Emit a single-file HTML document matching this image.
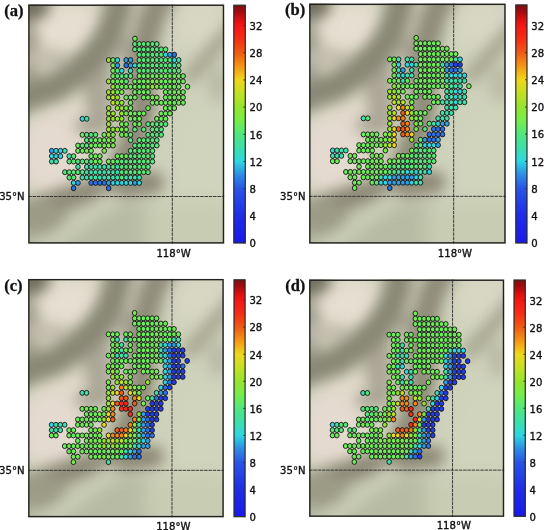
<!DOCTYPE html>
<html><head><meta charset="utf-8"><style>
html,body{margin:0;padding:0;background:#fff;}
body{width:544px;height:530px;overflow:hidden;}
svg{display:block;}
.gl{stroke:#333;stroke-width:0.95;stroke-dasharray:3.5 0.8;fill:none;}
.fr{fill:none;stroke:#222;stroke-width:1.4;}
.cb{stroke:#2b2b2b;stroke-width:1.2;}
.tk{stroke:#333;stroke-width:0.9;}
.tl,.al{font-family:"DejaVu Sans","Liberation Sans",sans-serif;font-size:10.1px;fill:#111;stroke:#111;stroke-width:0.35px;}
.pl{font-family:"Liberation Serif","DejaVu Serif",serif;font-weight:bold;font-size:16.5px;fill:#111;stroke:#111;stroke-width:0.3px;}
.d{stroke:#141414;stroke-width:0.9;}
</style></head><body>
<svg width="544" height="530" viewBox="0 0 544 530">
<defs>
<linearGradient id="jet" x1="0" y1="1" x2="0" y2="0"><stop offset="0.0000" stop-color="#1919eb"/><stop offset="0.1143" stop-color="#1e2de8"/><stop offset="0.2286" stop-color="#2855e6"/><stop offset="0.2857" stop-color="#2d8ce6"/><stop offset="0.3429" stop-color="#2dd7e1"/><stop offset="0.4000" stop-color="#3ce0aa"/><stop offset="0.4571" stop-color="#52e67d"/><stop offset="0.4857" stop-color="#62eb64"/><stop offset="0.5143" stop-color="#76ed4b"/><stop offset="0.5714" stop-color="#96e42d"/><stop offset="0.6286" stop-color="#c3e123"/><stop offset="0.6857" stop-color="#f0d719"/><stop offset="0.7429" stop-color="#f59614"/><stop offset="0.8000" stop-color="#f05a14"/><stop offset="0.8571" stop-color="#f52d14"/><stop offset="0.9143" stop-color="#f51614"/><stop offset="0.9429" stop-color="#d70f0f"/><stop offset="0.9714" stop-color="#a50a0f"/><stop offset="1.0000" stop-color="#7d0f0f"/></linearGradient>
<filter id="bl" x="-50%" y="-50%" width="200%" height="200%"><feGaussianBlur stdDeviation="9"/></filter>
<filter id="bl3" x="-50%" y="-50%" width="200%" height="200%"><feGaussianBlur stdDeviation="7"/></filter>
<filter id="bl2" x="-50%" y="-50%" width="200%" height="200%"><feGaussianBlur stdDeviation="5"/></filter>
<g id="terrain"><rect x="-20" y="-20" width="240" height="280" fill="#cfd2bb"/>
<g filter="url(#bl)">
<ellipse cx="40" cy="24" rx="40" ry="26" fill="#e6ded1"/>
<ellipse cx="99" cy="10" rx="9" ry="22" fill="#e2dacc"/>
<ellipse cx="24" cy="150" rx="33" ry="44" fill="#e5dad0"/>
<ellipse cx="42" cy="110" rx="32" ry="14" fill="#e2d9cc"/>
<ellipse cx="180" cy="170" rx="35" ry="60" fill="#d0d4bc"/>
<ellipse cx="175" cy="20" rx="30" ry="25" fill="#d8d7c5"/>
<rect x="-20" y="196" width="140" height="60" fill="#b8bba3"/>
<ellipse cx="170" cy="225" rx="55" ry="32" fill="#c8ccb2"/>
</g>
<g filter="url(#bl3)" fill="none" stroke-linecap="round" stroke-linejoin="round">
<ellipse cx="0" cy="0" rx="22" ry="17" fill="#736f5e" stroke="none"/>
<ellipse cx="0" cy="50" rx="11" ry="34" fill="#a19c8b" stroke="none"/>
<path d="M70 40 L82 40 L84 125 L62 125 L55 80 Z" fill="#aca797" stroke="none"/>
<ellipse cx="63" cy="121" rx="17" ry="8" fill="#a7a393" stroke="none"/>
<ellipse cx="98" cy="46" rx="12" ry="13" fill="#b0ac9c" stroke="none"/>
<path d="M92 -8 L88 12 L80 32 L66 52 L48 68 L28 82 L0 92 L-10 97" stroke="#898876" stroke-width="28"/>
<ellipse cx="18" cy="54" rx="24" ry="9" fill="#c3beae" stroke="none"/>
<path d="M134 -8 L124 12 L116 40 L112 70 L115 100 L110 125 L95 158" stroke="#8f8c79" stroke-width="26"/>
<path d="M125 178 L95 182 L60 187 L30 196 L-8 210" stroke="#8c8876" stroke-width="22"/>
<path d="M206 22 L162 72" stroke="#a9a893" stroke-width="16"/>
<ellipse cx="190" cy="80" rx="10" ry="18" fill="#b9b9a4" stroke="none"/>
<ellipse cx="8" cy="212" rx="30" ry="18" fill="#9c9c86" stroke="none"/>
<path d="M14 246 L82 194" stroke="#cacdb5" stroke-width="16"/>
</g>
</g>
</defs>
<g transform="translate(28.20 4.50) scale(1.0000 1.0000)">
<svg x="0" y="0" width="196.0" height="239.1" viewBox="0 0 196.0 239.1" overflow="hidden"><use href="#terrain"/></svg>
<line x1="144.1" y1="0" x2="144.1" y2="239.1" class="gl"/>
<line x1="0" y1="192.0" x2="196.0" y2="192.0" class="gl"/>
<ellipse class="d" cx="106.72" cy="34.20" rx="2.3" ry="2.5" fill="#6cec58"/>
<ellipse class="d" cx="106.72" cy="39.54" rx="2.3" ry="2.5" fill="#55e778"/>
<ellipse class="d" cx="111.10" cy="39.54" rx="2.3" ry="2.5" fill="#55e778"/>
<ellipse class="d" cx="115.48" cy="39.54" rx="2.3" ry="2.5" fill="#55e778"/>
<ellipse class="d" cx="119.86" cy="39.54" rx="2.3" ry="2.5" fill="#55e778"/>
<ellipse class="d" cx="124.24" cy="39.54" rx="2.3" ry="2.5" fill="#55e778"/>
<ellipse class="d" cx="128.62" cy="39.54" rx="2.3" ry="2.5" fill="#55e778"/>
<ellipse class="d" cx="106.72" cy="44.88" rx="2.3" ry="2.5" fill="#55e778"/>
<ellipse class="d" cx="111.10" cy="44.88" rx="2.3" ry="2.5" fill="#55e778"/>
<ellipse class="d" cx="115.48" cy="44.88" rx="2.3" ry="2.5" fill="#55e778"/>
<ellipse class="d" cx="119.86" cy="44.88" rx="2.3" ry="2.5" fill="#55e778"/>
<ellipse class="d" cx="124.24" cy="44.88" rx="2.3" ry="2.5" fill="#55e778"/>
<ellipse class="d" cx="128.62" cy="44.88" rx="2.3" ry="2.5" fill="#55e778"/>
<ellipse class="d" cx="133.00" cy="44.88" rx="2.3" ry="2.5" fill="#55e778"/>
<ellipse class="d" cx="137.38" cy="44.88" rx="2.3" ry="2.5" fill="#55e778"/>
<ellipse class="d" cx="111.10" cy="50.22" rx="2.3" ry="2.5" fill="#55e778"/>
<ellipse class="d" cx="115.48" cy="50.22" rx="2.3" ry="2.5" fill="#55e778"/>
<ellipse class="d" cx="119.86" cy="50.22" rx="2.3" ry="2.5" fill="#55e778"/>
<ellipse class="d" cx="124.24" cy="50.22" rx="2.3" ry="2.5" fill="#55e778"/>
<ellipse class="d" cx="128.62" cy="50.22" rx="2.3" ry="2.5" fill="#55e778"/>
<ellipse class="d" cx="133.00" cy="50.22" rx="2.3" ry="2.5" fill="#55e778"/>
<ellipse class="d" cx="137.38" cy="50.22" rx="2.3" ry="2.5" fill="#2dd7e1"/>
<ellipse class="d" cx="141.76" cy="50.22" rx="2.3" ry="2.5" fill="#2d9fe5"/>
<ellipse class="d" cx="146.14" cy="50.22" rx="2.3" ry="2.5" fill="#2a70e6"/>
<ellipse class="d" cx="80.44" cy="55.56" rx="2.3" ry="2.5" fill="#96e42d"/>
<ellipse class="d" cx="84.82" cy="55.56" rx="2.3" ry="2.5" fill="#6cec58"/>
<ellipse class="d" cx="89.20" cy="55.56" rx="2.3" ry="2.5" fill="#2dd7e1"/>
<ellipse class="d" cx="97.96" cy="55.56" rx="2.3" ry="2.5" fill="#2d9fe5"/>
<ellipse class="d" cx="102.34" cy="55.56" rx="2.3" ry="2.5" fill="#2d9fe5"/>
<ellipse class="d" cx="111.10" cy="55.56" rx="2.3" ry="2.5" fill="#55e778"/>
<ellipse class="d" cx="115.48" cy="55.56" rx="2.3" ry="2.5" fill="#55e778"/>
<ellipse class="d" cx="119.86" cy="55.56" rx="2.3" ry="2.5" fill="#55e778"/>
<ellipse class="d" cx="124.24" cy="55.56" rx="2.3" ry="2.5" fill="#55e778"/>
<ellipse class="d" cx="128.62" cy="55.56" rx="2.3" ry="2.5" fill="#55e778"/>
<ellipse class="d" cx="133.00" cy="55.56" rx="2.3" ry="2.5" fill="#55e778"/>
<ellipse class="d" cx="137.38" cy="55.56" rx="2.3" ry="2.5" fill="#55e778"/>
<ellipse class="d" cx="141.76" cy="55.56" rx="2.3" ry="2.5" fill="#55e778"/>
<ellipse class="d" cx="146.14" cy="55.56" rx="2.3" ry="2.5" fill="#2dd7e1"/>
<ellipse class="d" cx="150.52" cy="55.56" rx="2.3" ry="2.5" fill="#3ce0aa"/>
<ellipse class="d" cx="84.82" cy="60.90" rx="2.3" ry="2.5" fill="#6cec58"/>
<ellipse class="d" cx="89.20" cy="60.90" rx="2.3" ry="2.5" fill="#2d9fe5"/>
<ellipse class="d" cx="97.96" cy="60.90" rx="2.3" ry="2.5" fill="#2a70e6"/>
<ellipse class="d" cx="102.34" cy="60.90" rx="2.3" ry="2.5" fill="#2d9fe5"/>
<ellipse class="d" cx="106.72" cy="60.90" rx="2.3" ry="2.5" fill="#2dd7e1"/>
<ellipse class="d" cx="111.10" cy="60.90" rx="2.3" ry="2.5" fill="#55e778"/>
<ellipse class="d" cx="115.48" cy="60.90" rx="2.3" ry="2.5" fill="#55e778"/>
<ellipse class="d" cx="119.86" cy="60.90" rx="2.3" ry="2.5" fill="#55e778"/>
<ellipse class="d" cx="124.24" cy="60.90" rx="2.3" ry="2.5" fill="#55e778"/>
<ellipse class="d" cx="128.62" cy="60.90" rx="2.3" ry="2.5" fill="#55e778"/>
<ellipse class="d" cx="133.00" cy="60.90" rx="2.3" ry="2.5" fill="#55e778"/>
<ellipse class="d" cx="137.38" cy="60.90" rx="2.3" ry="2.5" fill="#55e778"/>
<ellipse class="d" cx="141.76" cy="60.90" rx="2.3" ry="2.5" fill="#55e778"/>
<ellipse class="d" cx="146.14" cy="60.90" rx="2.3" ry="2.5" fill="#3ce0aa"/>
<ellipse class="d" cx="150.52" cy="60.90" rx="2.3" ry="2.5" fill="#55e778"/>
<ellipse class="d" cx="84.82" cy="66.24" rx="2.3" ry="2.5" fill="#6cec58"/>
<ellipse class="d" cx="89.20" cy="66.24" rx="2.3" ry="2.5" fill="#55e778"/>
<ellipse class="d" cx="93.58" cy="66.24" rx="2.3" ry="2.5" fill="#2dd7e1"/>
<ellipse class="d" cx="102.34" cy="66.24" rx="2.3" ry="2.5" fill="#3ce0aa"/>
<ellipse class="d" cx="111.10" cy="66.24" rx="2.3" ry="2.5" fill="#55e778"/>
<ellipse class="d" cx="115.48" cy="66.24" rx="2.3" ry="2.5" fill="#55e778"/>
<ellipse class="d" cx="119.86" cy="66.24" rx="2.3" ry="2.5" fill="#55e778"/>
<ellipse class="d" cx="124.24" cy="66.24" rx="2.3" ry="2.5" fill="#55e778"/>
<ellipse class="d" cx="128.62" cy="66.24" rx="2.3" ry="2.5" fill="#55e778"/>
<ellipse class="d" cx="133.00" cy="66.24" rx="2.3" ry="2.5" fill="#55e778"/>
<ellipse class="d" cx="137.38" cy="66.24" rx="2.3" ry="2.5" fill="#55e778"/>
<ellipse class="d" cx="141.76" cy="66.24" rx="2.3" ry="2.5" fill="#55e778"/>
<ellipse class="d" cx="146.14" cy="66.24" rx="2.3" ry="2.5" fill="#55e778"/>
<ellipse class="d" cx="150.52" cy="66.24" rx="2.3" ry="2.5" fill="#55e778"/>
<ellipse class="d" cx="84.82" cy="71.58" rx="2.3" ry="2.5" fill="#6cec58"/>
<ellipse class="d" cx="89.20" cy="71.58" rx="2.3" ry="2.5" fill="#55e778"/>
<ellipse class="d" cx="93.58" cy="71.58" rx="2.3" ry="2.5" fill="#55e778"/>
<ellipse class="d" cx="97.96" cy="71.58" rx="2.3" ry="2.5" fill="#55e778"/>
<ellipse class="d" cx="102.34" cy="71.58" rx="2.3" ry="2.5" fill="#55e778"/>
<ellipse class="d" cx="111.10" cy="71.58" rx="2.3" ry="2.5" fill="#6cec58"/>
<ellipse class="d" cx="115.48" cy="71.58" rx="2.3" ry="2.5" fill="#6cec58"/>
<ellipse class="d" cx="119.86" cy="71.58" rx="2.3" ry="2.5" fill="#6cec58"/>
<ellipse class="d" cx="124.24" cy="71.58" rx="2.3" ry="2.5" fill="#6cec58"/>
<ellipse class="d" cx="128.62" cy="71.58" rx="2.3" ry="2.5" fill="#6cec58"/>
<ellipse class="d" cx="133.00" cy="71.58" rx="2.3" ry="2.5" fill="#6cec58"/>
<ellipse class="d" cx="137.38" cy="71.58" rx="2.3" ry="2.5" fill="#6cec58"/>
<ellipse class="d" cx="141.76" cy="71.58" rx="2.3" ry="2.5" fill="#6cec58"/>
<ellipse class="d" cx="146.14" cy="71.58" rx="2.3" ry="2.5" fill="#6cec58"/>
<ellipse class="d" cx="150.52" cy="71.58" rx="2.3" ry="2.5" fill="#6cec58"/>
<ellipse class="d" cx="154.90" cy="71.58" rx="2.3" ry="2.5" fill="#6cec58"/>
<ellipse class="d" cx="80.44" cy="76.92" rx="2.3" ry="2.5" fill="#96e42d"/>
<ellipse class="d" cx="84.82" cy="76.92" rx="2.3" ry="2.5" fill="#6cec58"/>
<ellipse class="d" cx="89.20" cy="76.92" rx="2.3" ry="2.5" fill="#6cec58"/>
<ellipse class="d" cx="93.58" cy="76.92" rx="2.3" ry="2.5" fill="#6cec58"/>
<ellipse class="d" cx="97.96" cy="76.92" rx="2.3" ry="2.5" fill="#55e778"/>
<ellipse class="d" cx="106.72" cy="76.92" rx="2.3" ry="2.5" fill="#6cec58"/>
<ellipse class="d" cx="111.10" cy="76.92" rx="2.3" ry="2.5" fill="#6cec58"/>
<ellipse class="d" cx="115.48" cy="76.92" rx="2.3" ry="2.5" fill="#6cec58"/>
<ellipse class="d" cx="119.86" cy="76.92" rx="2.3" ry="2.5" fill="#76ed4b"/>
<ellipse class="d" cx="124.24" cy="76.92" rx="2.3" ry="2.5" fill="#76ed4b"/>
<ellipse class="d" cx="128.62" cy="76.92" rx="2.3" ry="2.5" fill="#76ed4b"/>
<ellipse class="d" cx="133.00" cy="76.92" rx="2.3" ry="2.5" fill="#6cec58"/>
<ellipse class="d" cx="137.38" cy="76.92" rx="2.3" ry="2.5" fill="#6cec58"/>
<ellipse class="d" cx="141.76" cy="76.92" rx="2.3" ry="2.5" fill="#6cec58"/>
<ellipse class="d" cx="146.14" cy="76.92" rx="2.3" ry="2.5" fill="#6cec58"/>
<ellipse class="d" cx="150.52" cy="76.92" rx="2.3" ry="2.5" fill="#6cec58"/>
<ellipse class="d" cx="154.90" cy="76.92" rx="2.3" ry="2.5" fill="#6cec58"/>
<ellipse class="d" cx="84.82" cy="82.26" rx="2.3" ry="2.5" fill="#96e42d"/>
<ellipse class="d" cx="89.20" cy="82.26" rx="2.3" ry="2.5" fill="#6cec58"/>
<ellipse class="d" cx="93.58" cy="82.26" rx="2.3" ry="2.5" fill="#6cec58"/>
<ellipse class="d" cx="97.96" cy="82.26" rx="2.3" ry="2.5" fill="#6cec58"/>
<ellipse class="d" cx="102.34" cy="82.26" rx="2.3" ry="2.5" fill="#6cec58"/>
<ellipse class="d" cx="106.72" cy="82.26" rx="2.3" ry="2.5" fill="#6cec58"/>
<ellipse class="d" cx="111.10" cy="82.26" rx="2.3" ry="2.5" fill="#6cec58"/>
<ellipse class="d" cx="115.48" cy="82.26" rx="2.3" ry="2.5" fill="#6cec58"/>
<ellipse class="d" cx="119.86" cy="82.26" rx="2.3" ry="2.5" fill="#76ed4b"/>
<ellipse class="d" cx="124.24" cy="82.26" rx="2.3" ry="2.5" fill="#96e42d"/>
<ellipse class="d" cx="128.62" cy="82.26" rx="2.3" ry="2.5" fill="#76ed4b"/>
<ellipse class="d" cx="133.00" cy="82.26" rx="2.3" ry="2.5" fill="#6cec58"/>
<ellipse class="d" cx="137.38" cy="82.26" rx="2.3" ry="2.5" fill="#6cec58"/>
<ellipse class="d" cx="141.76" cy="82.26" rx="2.3" ry="2.5" fill="#6cec58"/>
<ellipse class="d" cx="146.14" cy="82.26" rx="2.3" ry="2.5" fill="#6cec58"/>
<ellipse class="d" cx="150.52" cy="82.26" rx="2.3" ry="2.5" fill="#6cec58"/>
<ellipse class="d" cx="159.28" cy="82.26" rx="2.3" ry="2.5" fill="#6cec58"/>
<ellipse class="d" cx="80.44" cy="87.60" rx="2.3" ry="2.5" fill="#96e42d"/>
<ellipse class="d" cx="84.82" cy="87.60" rx="2.3" ry="2.5" fill="#96e42d"/>
<ellipse class="d" cx="89.20" cy="87.60" rx="2.3" ry="2.5" fill="#76ed4b"/>
<ellipse class="d" cx="93.58" cy="87.60" rx="2.3" ry="2.5" fill="#76ed4b"/>
<ellipse class="d" cx="106.72" cy="87.60" rx="2.3" ry="2.5" fill="#6cec58"/>
<ellipse class="d" cx="111.10" cy="87.60" rx="2.3" ry="2.5" fill="#6cec58"/>
<ellipse class="d" cx="115.48" cy="87.60" rx="2.3" ry="2.5" fill="#6cec58"/>
<ellipse class="d" cx="119.86" cy="87.60" rx="2.3" ry="2.5" fill="#6cec58"/>
<ellipse class="d" cx="137.38" cy="87.60" rx="2.3" ry="2.5" fill="#6cec58"/>
<ellipse class="d" cx="141.76" cy="87.60" rx="2.3" ry="2.5" fill="#6cec58"/>
<ellipse class="d" cx="146.14" cy="87.60" rx="2.3" ry="2.5" fill="#6cec58"/>
<ellipse class="d" cx="150.52" cy="87.60" rx="2.3" ry="2.5" fill="#6cec58"/>
<ellipse class="d" cx="154.90" cy="87.60" rx="2.3" ry="2.5" fill="#6cec58"/>
<ellipse class="d" cx="80.44" cy="92.94" rx="2.3" ry="2.5" fill="#96e42d"/>
<ellipse class="d" cx="84.82" cy="92.94" rx="2.3" ry="2.5" fill="#c3e123"/>
<ellipse class="d" cx="89.20" cy="92.94" rx="2.3" ry="2.5" fill="#96e42d"/>
<ellipse class="d" cx="97.96" cy="92.94" rx="2.3" ry="2.5" fill="#6cec58"/>
<ellipse class="d" cx="102.34" cy="92.94" rx="2.3" ry="2.5" fill="#6cec58"/>
<ellipse class="d" cx="106.72" cy="92.94" rx="2.3" ry="2.5" fill="#6cec58"/>
<ellipse class="d" cx="115.48" cy="92.94" rx="2.3" ry="2.5" fill="#6cec58"/>
<ellipse class="d" cx="119.86" cy="92.94" rx="2.3" ry="2.5" fill="#76ed4b"/>
<ellipse class="d" cx="124.24" cy="92.94" rx="2.3" ry="2.5" fill="#76ed4b"/>
<ellipse class="d" cx="128.62" cy="92.94" rx="2.3" ry="2.5" fill="#76ed4b"/>
<ellipse class="d" cx="137.38" cy="92.94" rx="2.3" ry="2.5" fill="#6cec58"/>
<ellipse class="d" cx="141.76" cy="92.94" rx="2.3" ry="2.5" fill="#6cec58"/>
<ellipse class="d" cx="146.14" cy="92.94" rx="2.3" ry="2.5" fill="#6cec58"/>
<ellipse class="d" cx="150.52" cy="92.94" rx="2.3" ry="2.5" fill="#6cec58"/>
<ellipse class="d" cx="154.90" cy="92.94" rx="2.3" ry="2.5" fill="#6cec58"/>
<ellipse class="d" cx="84.82" cy="98.28" rx="2.3" ry="2.5" fill="#c3e123"/>
<ellipse class="d" cx="89.20" cy="98.28" rx="2.3" ry="2.5" fill="#96e42d"/>
<ellipse class="d" cx="93.58" cy="98.28" rx="2.3" ry="2.5" fill="#96e42d"/>
<ellipse class="d" cx="102.34" cy="98.28" rx="2.3" ry="2.5" fill="#6cec58"/>
<ellipse class="d" cx="124.24" cy="98.28" rx="2.3" ry="2.5" fill="#6cec58"/>
<ellipse class="d" cx="128.62" cy="98.28" rx="2.3" ry="2.5" fill="#6cec58"/>
<ellipse class="d" cx="133.00" cy="98.28" rx="2.3" ry="2.5" fill="#6cec58"/>
<ellipse class="d" cx="137.38" cy="98.28" rx="2.3" ry="2.5" fill="#6cec58"/>
<ellipse class="d" cx="141.76" cy="98.28" rx="2.3" ry="2.5" fill="#6cec58"/>
<ellipse class="d" cx="146.14" cy="98.28" rx="2.3" ry="2.5" fill="#6cec58"/>
<ellipse class="d" cx="150.52" cy="98.28" rx="2.3" ry="2.5" fill="#6cec58"/>
<ellipse class="d" cx="154.90" cy="98.28" rx="2.3" ry="2.5" fill="#6cec58"/>
<ellipse class="d" cx="80.44" cy="103.62" rx="2.3" ry="2.5" fill="#96e42d"/>
<ellipse class="d" cx="89.20" cy="103.62" rx="2.3" ry="2.5" fill="#96e42d"/>
<ellipse class="d" cx="93.58" cy="103.62" rx="2.3" ry="2.5" fill="#96e42d"/>
<ellipse class="d" cx="97.96" cy="103.62" rx="2.3" ry="2.5" fill="#76ed4b"/>
<ellipse class="d" cx="102.34" cy="103.62" rx="2.3" ry="2.5" fill="#6cec58"/>
<ellipse class="d" cx="119.86" cy="103.62" rx="2.3" ry="2.5" fill="#6cec58"/>
<ellipse class="d" cx="137.38" cy="103.62" rx="2.3" ry="2.5" fill="#6cec58"/>
<ellipse class="d" cx="141.76" cy="103.62" rx="2.3" ry="2.5" fill="#6cec58"/>
<ellipse class="d" cx="146.14" cy="103.62" rx="2.3" ry="2.5" fill="#6cec58"/>
<ellipse class="d" cx="80.44" cy="108.96" rx="2.3" ry="2.5" fill="#96e42d"/>
<ellipse class="d" cx="84.82" cy="108.96" rx="2.3" ry="2.5" fill="#96e42d"/>
<ellipse class="d" cx="93.58" cy="108.96" rx="2.3" ry="2.5" fill="#96e42d"/>
<ellipse class="d" cx="97.96" cy="108.96" rx="2.3" ry="2.5" fill="#76ed4b"/>
<ellipse class="d" cx="102.34" cy="108.96" rx="2.3" ry="2.5" fill="#6cec58"/>
<ellipse class="d" cx="106.72" cy="108.96" rx="2.3" ry="2.5" fill="#6cec58"/>
<ellipse class="d" cx="111.10" cy="108.96" rx="2.3" ry="2.5" fill="#6cec58"/>
<ellipse class="d" cx="115.48" cy="108.96" rx="2.3" ry="2.5" fill="#6cec58"/>
<ellipse class="d" cx="133.00" cy="108.96" rx="2.3" ry="2.5" fill="#6cec58"/>
<ellipse class="d" cx="137.38" cy="108.96" rx="2.3" ry="2.5" fill="#6cec58"/>
<ellipse class="d" cx="141.76" cy="108.96" rx="2.3" ry="2.5" fill="#6cec58"/>
<ellipse class="d" cx="54.16" cy="114.30" rx="2.3" ry="2.5" fill="#2dd7e1"/>
<ellipse class="d" cx="58.54" cy="114.30" rx="2.3" ry="2.5" fill="#3ce0aa"/>
<ellipse class="d" cx="80.44" cy="114.30" rx="2.3" ry="2.5" fill="#96e42d"/>
<ellipse class="d" cx="84.82" cy="114.30" rx="2.3" ry="2.5" fill="#96e42d"/>
<ellipse class="d" cx="89.20" cy="114.30" rx="2.3" ry="2.5" fill="#96e42d"/>
<ellipse class="d" cx="93.58" cy="114.30" rx="2.3" ry="2.5" fill="#96e42d"/>
<ellipse class="d" cx="102.34" cy="114.30" rx="2.3" ry="2.5" fill="#6cec58"/>
<ellipse class="d" cx="106.72" cy="114.30" rx="2.3" ry="2.5" fill="#6cec58"/>
<ellipse class="d" cx="111.10" cy="114.30" rx="2.3" ry="2.5" fill="#6cec58"/>
<ellipse class="d" cx="128.62" cy="114.30" rx="2.3" ry="2.5" fill="#6cec58"/>
<ellipse class="d" cx="133.00" cy="114.30" rx="2.3" ry="2.5" fill="#6cec58"/>
<ellipse class="d" cx="137.38" cy="114.30" rx="2.3" ry="2.5" fill="#6cec58"/>
<ellipse class="d" cx="80.44" cy="119.64" rx="2.3" ry="2.5" fill="#96e42d"/>
<ellipse class="d" cx="93.58" cy="119.64" rx="2.3" ry="2.5" fill="#76ed4b"/>
<ellipse class="d" cx="97.96" cy="119.64" rx="2.3" ry="2.5" fill="#6cec58"/>
<ellipse class="d" cx="106.72" cy="119.64" rx="2.3" ry="2.5" fill="#6cec58"/>
<ellipse class="d" cx="111.10" cy="119.64" rx="2.3" ry="2.5" fill="#6cec58"/>
<ellipse class="d" cx="119.86" cy="119.64" rx="2.3" ry="2.5" fill="#55e778"/>
<ellipse class="d" cx="124.24" cy="119.64" rx="2.3" ry="2.5" fill="#55e778"/>
<ellipse class="d" cx="128.62" cy="119.64" rx="2.3" ry="2.5" fill="#55e778"/>
<ellipse class="d" cx="133.00" cy="119.64" rx="2.3" ry="2.5" fill="#55e778"/>
<ellipse class="d" cx="137.38" cy="119.64" rx="2.3" ry="2.5" fill="#55e778"/>
<ellipse class="d" cx="80.44" cy="124.98" rx="2.3" ry="2.5" fill="#96e42d"/>
<ellipse class="d" cx="84.82" cy="124.98" rx="2.3" ry="2.5" fill="#96e42d"/>
<ellipse class="d" cx="89.20" cy="124.98" rx="2.3" ry="2.5" fill="#96e42d"/>
<ellipse class="d" cx="93.58" cy="124.98" rx="2.3" ry="2.5" fill="#76ed4b"/>
<ellipse class="d" cx="97.96" cy="124.98" rx="2.3" ry="2.5" fill="#6cec58"/>
<ellipse class="d" cx="106.72" cy="124.98" rx="2.3" ry="2.5" fill="#55e778"/>
<ellipse class="d" cx="115.48" cy="124.98" rx="2.3" ry="2.5" fill="#55e778"/>
<ellipse class="d" cx="124.24" cy="124.98" rx="2.3" ry="2.5" fill="#55e778"/>
<ellipse class="d" cx="128.62" cy="124.98" rx="2.3" ry="2.5" fill="#55e778"/>
<ellipse class="d" cx="133.00" cy="124.98" rx="2.3" ry="2.5" fill="#55e778"/>
<ellipse class="d" cx="54.16" cy="130.32" rx="2.3" ry="2.5" fill="#6cec58"/>
<ellipse class="d" cx="58.54" cy="130.32" rx="2.3" ry="2.5" fill="#55e778"/>
<ellipse class="d" cx="62.92" cy="130.32" rx="2.3" ry="2.5" fill="#55e778"/>
<ellipse class="d" cx="67.30" cy="130.32" rx="2.3" ry="2.5" fill="#55e778"/>
<ellipse class="d" cx="76.06" cy="130.32" rx="2.3" ry="2.5" fill="#6cec58"/>
<ellipse class="d" cx="80.44" cy="130.32" rx="2.3" ry="2.5" fill="#96e42d"/>
<ellipse class="d" cx="84.82" cy="130.32" rx="2.3" ry="2.5" fill="#76ed4b"/>
<ellipse class="d" cx="93.58" cy="130.32" rx="2.3" ry="2.5" fill="#76ed4b"/>
<ellipse class="d" cx="97.96" cy="130.32" rx="2.3" ry="2.5" fill="#6cec58"/>
<ellipse class="d" cx="102.34" cy="130.32" rx="2.3" ry="2.5" fill="#55e778"/>
<ellipse class="d" cx="119.86" cy="130.32" rx="2.3" ry="2.5" fill="#55e778"/>
<ellipse class="d" cx="124.24" cy="130.32" rx="2.3" ry="2.5" fill="#55e778"/>
<ellipse class="d" cx="128.62" cy="130.32" rx="2.3" ry="2.5" fill="#55e778"/>
<ellipse class="d" cx="133.00" cy="130.32" rx="2.3" ry="2.5" fill="#55e778"/>
<ellipse class="d" cx="58.54" cy="135.66" rx="2.3" ry="2.5" fill="#55e778"/>
<ellipse class="d" cx="62.92" cy="135.66" rx="2.3" ry="2.5" fill="#55e778"/>
<ellipse class="d" cx="67.30" cy="135.66" rx="2.3" ry="2.5" fill="#6cec58"/>
<ellipse class="d" cx="71.68" cy="135.66" rx="2.3" ry="2.5" fill="#6cec58"/>
<ellipse class="d" cx="76.06" cy="135.66" rx="2.3" ry="2.5" fill="#6cec58"/>
<ellipse class="d" cx="80.44" cy="135.66" rx="2.3" ry="2.5" fill="#76ed4b"/>
<ellipse class="d" cx="84.82" cy="135.66" rx="2.3" ry="2.5" fill="#76ed4b"/>
<ellipse class="d" cx="102.34" cy="135.66" rx="2.3" ry="2.5" fill="#55e778"/>
<ellipse class="d" cx="111.10" cy="135.66" rx="2.3" ry="2.5" fill="#55e778"/>
<ellipse class="d" cx="115.48" cy="135.66" rx="2.3" ry="2.5" fill="#55e778"/>
<ellipse class="d" cx="119.86" cy="135.66" rx="2.3" ry="2.5" fill="#55e778"/>
<ellipse class="d" cx="124.24" cy="135.66" rx="2.3" ry="2.5" fill="#55e778"/>
<ellipse class="d" cx="128.62" cy="135.66" rx="2.3" ry="2.5" fill="#55e778"/>
<ellipse class="d" cx="49.78" cy="141.00" rx="2.3" ry="2.5" fill="#6cec58"/>
<ellipse class="d" cx="54.16" cy="141.00" rx="2.3" ry="2.5" fill="#55e778"/>
<ellipse class="d" cx="58.54" cy="141.00" rx="2.3" ry="2.5" fill="#55e778"/>
<ellipse class="d" cx="62.92" cy="141.00" rx="2.3" ry="2.5" fill="#6cec58"/>
<ellipse class="d" cx="67.30" cy="141.00" rx="2.3" ry="2.5" fill="#6cec58"/>
<ellipse class="d" cx="71.68" cy="141.00" rx="2.3" ry="2.5" fill="#6cec58"/>
<ellipse class="d" cx="76.06" cy="141.00" rx="2.3" ry="2.5" fill="#6cec58"/>
<ellipse class="d" cx="80.44" cy="141.00" rx="2.3" ry="2.5" fill="#76ed4b"/>
<ellipse class="d" cx="84.82" cy="141.00" rx="2.3" ry="2.5" fill="#76ed4b"/>
<ellipse class="d" cx="106.72" cy="141.00" rx="2.3" ry="2.5" fill="#55e778"/>
<ellipse class="d" cx="111.10" cy="141.00" rx="2.3" ry="2.5" fill="#55e778"/>
<ellipse class="d" cx="115.48" cy="141.00" rx="2.3" ry="2.5" fill="#55e778"/>
<ellipse class="d" cx="119.86" cy="141.00" rx="2.3" ry="2.5" fill="#55e778"/>
<ellipse class="d" cx="124.24" cy="141.00" rx="2.3" ry="2.5" fill="#55e778"/>
<ellipse class="d" cx="128.62" cy="141.00" rx="2.3" ry="2.5" fill="#55e778"/>
<ellipse class="d" cx="23.50" cy="146.34" rx="2.3" ry="2.5" fill="#2d9fe5"/>
<ellipse class="d" cx="27.88" cy="146.34" rx="2.3" ry="2.5" fill="#2dd7e1"/>
<ellipse class="d" cx="32.26" cy="146.34" rx="2.3" ry="2.5" fill="#2dd7e1"/>
<ellipse class="d" cx="36.64" cy="146.34" rx="2.3" ry="2.5" fill="#3ce0aa"/>
<ellipse class="d" cx="49.78" cy="146.34" rx="2.3" ry="2.5" fill="#6cec58"/>
<ellipse class="d" cx="54.16" cy="146.34" rx="2.3" ry="2.5" fill="#6cec58"/>
<ellipse class="d" cx="58.54" cy="146.34" rx="2.3" ry="2.5" fill="#6cec58"/>
<ellipse class="d" cx="62.92" cy="146.34" rx="2.3" ry="2.5" fill="#6cec58"/>
<ellipse class="d" cx="76.06" cy="146.34" rx="2.3" ry="2.5" fill="#76ed4b"/>
<ellipse class="d" cx="102.34" cy="146.34" rx="2.3" ry="2.5" fill="#55e778"/>
<ellipse class="d" cx="106.72" cy="146.34" rx="2.3" ry="2.5" fill="#55e778"/>
<ellipse class="d" cx="111.10" cy="146.34" rx="2.3" ry="2.5" fill="#55e778"/>
<ellipse class="d" cx="115.48" cy="146.34" rx="2.3" ry="2.5" fill="#55e778"/>
<ellipse class="d" cx="119.86" cy="146.34" rx="2.3" ry="2.5" fill="#55e778"/>
<ellipse class="d" cx="124.24" cy="146.34" rx="2.3" ry="2.5" fill="#55e778"/>
<ellipse class="d" cx="23.50" cy="151.68" rx="2.3" ry="2.5" fill="#2dd7e1"/>
<ellipse class="d" cx="27.88" cy="151.68" rx="2.3" ry="2.5" fill="#2dd7e1"/>
<ellipse class="d" cx="32.26" cy="151.68" rx="2.3" ry="2.5" fill="#2dd7e1"/>
<ellipse class="d" cx="41.02" cy="151.68" rx="2.3" ry="2.5" fill="#3ce0aa"/>
<ellipse class="d" cx="45.40" cy="151.68" rx="2.3" ry="2.5" fill="#55e778"/>
<ellipse class="d" cx="62.92" cy="151.68" rx="2.3" ry="2.5" fill="#6cec58"/>
<ellipse class="d" cx="67.30" cy="151.68" rx="2.3" ry="2.5" fill="#6cec58"/>
<ellipse class="d" cx="71.68" cy="151.68" rx="2.3" ry="2.5" fill="#6cec58"/>
<ellipse class="d" cx="89.20" cy="151.68" rx="2.3" ry="2.5" fill="#6cec58"/>
<ellipse class="d" cx="93.58" cy="151.68" rx="2.3" ry="2.5" fill="#6cec58"/>
<ellipse class="d" cx="97.96" cy="151.68" rx="2.3" ry="2.5" fill="#6cec58"/>
<ellipse class="d" cx="102.34" cy="151.68" rx="2.3" ry="2.5" fill="#55e778"/>
<ellipse class="d" cx="106.72" cy="151.68" rx="2.3" ry="2.5" fill="#55e778"/>
<ellipse class="d" cx="111.10" cy="151.68" rx="2.3" ry="2.5" fill="#55e778"/>
<ellipse class="d" cx="115.48" cy="151.68" rx="2.3" ry="2.5" fill="#55e778"/>
<ellipse class="d" cx="119.86" cy="151.68" rx="2.3" ry="2.5" fill="#55e778"/>
<ellipse class="d" cx="124.24" cy="151.68" rx="2.3" ry="2.5" fill="#55e778"/>
<ellipse class="d" cx="23.50" cy="157.02" rx="2.3" ry="2.5" fill="#3ce0aa"/>
<ellipse class="d" cx="27.88" cy="157.02" rx="2.3" ry="2.5" fill="#3ce0aa"/>
<ellipse class="d" cx="41.02" cy="157.02" rx="2.3" ry="2.5" fill="#55e778"/>
<ellipse class="d" cx="45.40" cy="157.02" rx="2.3" ry="2.5" fill="#55e778"/>
<ellipse class="d" cx="49.78" cy="157.02" rx="2.3" ry="2.5" fill="#55e778"/>
<ellipse class="d" cx="54.16" cy="157.02" rx="2.3" ry="2.5" fill="#55e778"/>
<ellipse class="d" cx="58.54" cy="157.02" rx="2.3" ry="2.5" fill="#55e778"/>
<ellipse class="d" cx="62.92" cy="157.02" rx="2.3" ry="2.5" fill="#55e778"/>
<ellipse class="d" cx="67.30" cy="157.02" rx="2.3" ry="2.5" fill="#6cec58"/>
<ellipse class="d" cx="71.68" cy="157.02" rx="2.3" ry="2.5" fill="#6cec58"/>
<ellipse class="d" cx="80.44" cy="157.02" rx="2.3" ry="2.5" fill="#6cec58"/>
<ellipse class="d" cx="84.82" cy="157.02" rx="2.3" ry="2.5" fill="#6cec58"/>
<ellipse class="d" cx="89.20" cy="157.02" rx="2.3" ry="2.5" fill="#55e778"/>
<ellipse class="d" cx="93.58" cy="157.02" rx="2.3" ry="2.5" fill="#55e778"/>
<ellipse class="d" cx="97.96" cy="157.02" rx="2.3" ry="2.5" fill="#55e778"/>
<ellipse class="d" cx="102.34" cy="157.02" rx="2.3" ry="2.5" fill="#55e778"/>
<ellipse class="d" cx="106.72" cy="157.02" rx="2.3" ry="2.5" fill="#55e778"/>
<ellipse class="d" cx="111.10" cy="157.02" rx="2.3" ry="2.5" fill="#55e778"/>
<ellipse class="d" cx="115.48" cy="157.02" rx="2.3" ry="2.5" fill="#55e778"/>
<ellipse class="d" cx="119.86" cy="157.02" rx="2.3" ry="2.5" fill="#55e778"/>
<ellipse class="d" cx="124.24" cy="157.02" rx="2.3" ry="2.5" fill="#55e778"/>
<ellipse class="d" cx="49.78" cy="162.36" rx="2.3" ry="2.5" fill="#3ce0aa"/>
<ellipse class="d" cx="58.54" cy="162.36" rx="2.3" ry="2.5" fill="#3ce0aa"/>
<ellipse class="d" cx="62.92" cy="162.36" rx="2.3" ry="2.5" fill="#3ce0aa"/>
<ellipse class="d" cx="67.30" cy="162.36" rx="2.3" ry="2.5" fill="#3ce0aa"/>
<ellipse class="d" cx="71.68" cy="162.36" rx="2.3" ry="2.5" fill="#3ce0aa"/>
<ellipse class="d" cx="76.06" cy="162.36" rx="2.3" ry="2.5" fill="#3ce0aa"/>
<ellipse class="d" cx="80.44" cy="162.36" rx="2.3" ry="2.5" fill="#3ce0aa"/>
<ellipse class="d" cx="84.82" cy="162.36" rx="2.3" ry="2.5" fill="#55e778"/>
<ellipse class="d" cx="89.20" cy="162.36" rx="2.3" ry="2.5" fill="#3ce0aa"/>
<ellipse class="d" cx="93.58" cy="162.36" rx="2.3" ry="2.5" fill="#55e778"/>
<ellipse class="d" cx="97.96" cy="162.36" rx="2.3" ry="2.5" fill="#55e778"/>
<ellipse class="d" cx="102.34" cy="162.36" rx="2.3" ry="2.5" fill="#55e778"/>
<ellipse class="d" cx="106.72" cy="162.36" rx="2.3" ry="2.5" fill="#55e778"/>
<ellipse class="d" cx="111.10" cy="162.36" rx="2.3" ry="2.5" fill="#55e778"/>
<ellipse class="d" cx="115.48" cy="162.36" rx="2.3" ry="2.5" fill="#55e778"/>
<ellipse class="d" cx="119.86" cy="162.36" rx="2.3" ry="2.5" fill="#55e778"/>
<ellipse class="d" cx="36.64" cy="167.70" rx="2.3" ry="2.5" fill="#55e778"/>
<ellipse class="d" cx="41.02" cy="167.70" rx="2.3" ry="2.5" fill="#55e778"/>
<ellipse class="d" cx="45.40" cy="167.70" rx="2.3" ry="2.5" fill="#55e778"/>
<ellipse class="d" cx="49.78" cy="167.70" rx="2.3" ry="2.5" fill="#55e778"/>
<ellipse class="d" cx="54.16" cy="167.70" rx="2.3" ry="2.5" fill="#55e778"/>
<ellipse class="d" cx="58.54" cy="167.70" rx="2.3" ry="2.5" fill="#3ce0aa"/>
<ellipse class="d" cx="62.92" cy="167.70" rx="2.3" ry="2.5" fill="#3ce0aa"/>
<ellipse class="d" cx="67.30" cy="167.70" rx="2.3" ry="2.5" fill="#3ce0aa"/>
<ellipse class="d" cx="71.68" cy="167.70" rx="2.3" ry="2.5" fill="#3ce0aa"/>
<ellipse class="d" cx="76.06" cy="167.70" rx="2.3" ry="2.5" fill="#3ce0aa"/>
<ellipse class="d" cx="80.44" cy="167.70" rx="2.3" ry="2.5" fill="#3ce0aa"/>
<ellipse class="d" cx="84.82" cy="167.70" rx="2.3" ry="2.5" fill="#3ce0aa"/>
<ellipse class="d" cx="89.20" cy="167.70" rx="2.3" ry="2.5" fill="#3ce0aa"/>
<ellipse class="d" cx="93.58" cy="167.70" rx="2.3" ry="2.5" fill="#55e778"/>
<ellipse class="d" cx="97.96" cy="167.70" rx="2.3" ry="2.5" fill="#55e778"/>
<ellipse class="d" cx="102.34" cy="167.70" rx="2.3" ry="2.5" fill="#55e778"/>
<ellipse class="d" cx="106.72" cy="167.70" rx="2.3" ry="2.5" fill="#55e778"/>
<ellipse class="d" cx="111.10" cy="167.70" rx="2.3" ry="2.5" fill="#55e778"/>
<ellipse class="d" cx="115.48" cy="167.70" rx="2.3" ry="2.5" fill="#55e778"/>
<ellipse class="d" cx="119.86" cy="167.70" rx="2.3" ry="2.5" fill="#55e778"/>
<ellipse class="d" cx="41.02" cy="173.04" rx="2.3" ry="2.5" fill="#55e778"/>
<ellipse class="d" cx="45.40" cy="173.04" rx="2.3" ry="2.5" fill="#55e778"/>
<ellipse class="d" cx="54.16" cy="173.04" rx="2.3" ry="2.5" fill="#3ce0aa"/>
<ellipse class="d" cx="58.54" cy="173.04" rx="2.3" ry="2.5" fill="#3ce0aa"/>
<ellipse class="d" cx="62.92" cy="173.04" rx="2.3" ry="2.5" fill="#3ce0aa"/>
<ellipse class="d" cx="67.30" cy="173.04" rx="2.3" ry="2.5" fill="#3ce0aa"/>
<ellipse class="d" cx="71.68" cy="173.04" rx="2.3" ry="2.5" fill="#3ce0aa"/>
<ellipse class="d" cx="76.06" cy="173.04" rx="2.3" ry="2.5" fill="#3ce0aa"/>
<ellipse class="d" cx="80.44" cy="173.04" rx="2.3" ry="2.5" fill="#3ce0aa"/>
<ellipse class="d" cx="84.82" cy="173.04" rx="2.3" ry="2.5" fill="#3ce0aa"/>
<ellipse class="d" cx="89.20" cy="173.04" rx="2.3" ry="2.5" fill="#3ce0aa"/>
<ellipse class="d" cx="93.58" cy="173.04" rx="2.3" ry="2.5" fill="#55e778"/>
<ellipse class="d" cx="97.96" cy="173.04" rx="2.3" ry="2.5" fill="#3ce0aa"/>
<ellipse class="d" cx="102.34" cy="173.04" rx="2.3" ry="2.5" fill="#3ce0aa"/>
<ellipse class="d" cx="106.72" cy="173.04" rx="2.3" ry="2.5" fill="#3ce0aa"/>
<ellipse class="d" cx="111.10" cy="173.04" rx="2.3" ry="2.5" fill="#3ce0aa"/>
<ellipse class="d" cx="45.40" cy="178.38" rx="2.3" ry="2.5" fill="#2dd7e1"/>
<ellipse class="d" cx="49.78" cy="178.38" rx="2.3" ry="2.5" fill="#2d9fe5"/>
<ellipse class="d" cx="62.92" cy="178.38" rx="2.3" ry="2.5" fill="#2a70e6"/>
<ellipse class="d" cx="67.30" cy="178.38" rx="2.3" ry="2.5" fill="#2a70e6"/>
<ellipse class="d" cx="71.68" cy="178.38" rx="2.3" ry="2.5" fill="#2a70e6"/>
<ellipse class="d" cx="76.06" cy="178.38" rx="2.3" ry="2.5" fill="#2a70e6"/>
<ellipse class="d" cx="80.44" cy="178.38" rx="2.3" ry="2.5" fill="#2d9fe5"/>
<ellipse class="d" cx="84.82" cy="178.38" rx="2.3" ry="2.5" fill="#2dd7e1"/>
<ellipse class="d" cx="89.20" cy="178.38" rx="2.3" ry="2.5" fill="#2dd7e1"/>
<ellipse class="d" cx="93.58" cy="178.38" rx="2.3" ry="2.5" fill="#2dd7e1"/>
<ellipse class="d" cx="97.96" cy="178.38" rx="2.3" ry="2.5" fill="#2dd7e1"/>
<ellipse class="d" cx="102.34" cy="178.38" rx="2.3" ry="2.5" fill="#2dd7e1"/>
<ellipse class="d" cx="106.72" cy="178.38" rx="2.3" ry="2.5" fill="#2d9fe5"/>
<ellipse class="d" cx="111.10" cy="178.38" rx="2.3" ry="2.5" fill="#2dd7e1"/>
<ellipse class="d" cx="45.40" cy="183.72" rx="2.3" ry="2.5" fill="#2a70e6"/>
<ellipse class="d" cx="80.44" cy="183.72" rx="2.3" ry="2.5" fill="#2a70e6"/>
<rect x="0.75" y="0.75" width="194.5" height="237.6" class="fr"/>
</g>
<rect x="233.80" y="5.20" width="11.50" height="237.80" fill="url(#jet)" class="cb"/>
<line x1="243.30" y1="243.00" x2="245.30" y2="243.00" class="tk"/>
<text x="249.60" y="247.30" class="tl">0</text>
<line x1="243.30" y1="215.82" x2="245.30" y2="215.82" class="tk"/>
<text x="249.60" y="220.12" class="tl">4</text>
<line x1="243.30" y1="188.65" x2="245.30" y2="188.65" class="tk"/>
<text x="249.60" y="192.95" class="tl">8</text>
<line x1="243.30" y1="161.47" x2="245.30" y2="161.47" class="tk"/>
<text x="249.60" y="165.77" class="tl">12</text>
<line x1="243.30" y1="134.29" x2="245.30" y2="134.29" class="tk"/>
<text x="249.60" y="138.59" class="tl">16</text>
<line x1="243.30" y1="107.11" x2="245.30" y2="107.11" class="tk"/>
<text x="249.60" y="111.41" class="tl">20</text>
<line x1="243.30" y1="79.94" x2="245.30" y2="79.94" class="tk"/>
<text x="249.60" y="84.24" class="tl">24</text>
<line x1="243.30" y1="52.76" x2="245.30" y2="52.76" class="tk"/>
<text x="249.60" y="57.06" class="tl">28</text>
<line x1="243.30" y1="25.58" x2="245.30" y2="25.58" class="tk"/>
<text x="249.60" y="29.88" class="tl">32</text>
<text x="4.30" y="16.40" class="pl">(a)</text>
<text x="24.60" y="200.20" class="al" text-anchor="end">35°N</text>
<text x="173.60" y="256.60" class="al" text-anchor="middle">118°W</text>
<g transform="translate(309.10 3.60) scale(1.0031 1.0038)">
<svg x="0" y="0" width="196.0" height="239.1" viewBox="0 0 196.0 239.1" overflow="hidden"><use href="#terrain"/></svg>
<line x1="144.1" y1="0" x2="144.1" y2="239.1" class="gl"/>
<line x1="0" y1="192.0" x2="196.0" y2="192.0" class="gl"/>
<ellipse class="d" cx="106.72" cy="34.20" rx="2.3" ry="2.5" fill="#76ed4b"/>
<ellipse class="d" cx="106.72" cy="39.54" rx="2.3" ry="2.5" fill="#6cec58"/>
<ellipse class="d" cx="111.10" cy="39.54" rx="2.3" ry="2.5" fill="#6cec58"/>
<ellipse class="d" cx="115.48" cy="39.54" rx="2.3" ry="2.5" fill="#6cec58"/>
<ellipse class="d" cx="119.86" cy="39.54" rx="2.3" ry="2.5" fill="#6cec58"/>
<ellipse class="d" cx="124.24" cy="39.54" rx="2.3" ry="2.5" fill="#6cec58"/>
<ellipse class="d" cx="128.62" cy="39.54" rx="2.3" ry="2.5" fill="#6cec58"/>
<ellipse class="d" cx="106.72" cy="44.88" rx="2.3" ry="2.5" fill="#6cec58"/>
<ellipse class="d" cx="111.10" cy="44.88" rx="2.3" ry="2.5" fill="#6cec58"/>
<ellipse class="d" cx="115.48" cy="44.88" rx="2.3" ry="2.5" fill="#6cec58"/>
<ellipse class="d" cx="119.86" cy="44.88" rx="2.3" ry="2.5" fill="#6cec58"/>
<ellipse class="d" cx="124.24" cy="44.88" rx="2.3" ry="2.5" fill="#6cec58"/>
<ellipse class="d" cx="128.62" cy="44.88" rx="2.3" ry="2.5" fill="#6cec58"/>
<ellipse class="d" cx="133.00" cy="44.88" rx="2.3" ry="2.5" fill="#6cec58"/>
<ellipse class="d" cx="137.38" cy="44.88" rx="2.3" ry="2.5" fill="#6cec58"/>
<ellipse class="d" cx="111.10" cy="50.22" rx="2.3" ry="2.5" fill="#6cec58"/>
<ellipse class="d" cx="115.48" cy="50.22" rx="2.3" ry="2.5" fill="#6cec58"/>
<ellipse class="d" cx="119.86" cy="50.22" rx="2.3" ry="2.5" fill="#6cec58"/>
<ellipse class="d" cx="124.24" cy="50.22" rx="2.3" ry="2.5" fill="#6cec58"/>
<ellipse class="d" cx="128.62" cy="50.22" rx="2.3" ry="2.5" fill="#6cec58"/>
<ellipse class="d" cx="133.00" cy="50.22" rx="2.3" ry="2.5" fill="#6cec58"/>
<ellipse class="d" cx="137.38" cy="50.22" rx="2.3" ry="2.5" fill="#6cec58"/>
<ellipse class="d" cx="141.76" cy="50.22" rx="2.3" ry="2.5" fill="#6cec58"/>
<ellipse class="d" cx="146.14" cy="50.22" rx="2.3" ry="2.5" fill="#6cec58"/>
<ellipse class="d" cx="80.44" cy="55.56" rx="2.3" ry="2.5" fill="#76ed4b"/>
<ellipse class="d" cx="84.82" cy="55.56" rx="2.3" ry="2.5" fill="#6cec58"/>
<ellipse class="d" cx="89.20" cy="55.56" rx="2.3" ry="2.5" fill="#3ce0aa"/>
<ellipse class="d" cx="97.96" cy="55.56" rx="2.3" ry="2.5" fill="#3ce0aa"/>
<ellipse class="d" cx="102.34" cy="55.56" rx="2.3" ry="2.5" fill="#3ce0aa"/>
<ellipse class="d" cx="111.10" cy="55.56" rx="2.3" ry="2.5" fill="#6cec58"/>
<ellipse class="d" cx="115.48" cy="55.56" rx="2.3" ry="2.5" fill="#6cec58"/>
<ellipse class="d" cx="119.86" cy="55.56" rx="2.3" ry="2.5" fill="#6cec58"/>
<ellipse class="d" cx="124.24" cy="55.56" rx="2.3" ry="2.5" fill="#6cec58"/>
<ellipse class="d" cx="128.62" cy="55.56" rx="2.3" ry="2.5" fill="#6cec58"/>
<ellipse class="d" cx="133.00" cy="55.56" rx="2.3" ry="2.5" fill="#6cec58"/>
<ellipse class="d" cx="137.38" cy="55.56" rx="2.3" ry="2.5" fill="#6cec58"/>
<ellipse class="d" cx="141.76" cy="55.56" rx="2.3" ry="2.5" fill="#6cec58"/>
<ellipse class="d" cx="146.14" cy="55.56" rx="2.3" ry="2.5" fill="#3ce0aa"/>
<ellipse class="d" cx="150.52" cy="55.56" rx="2.3" ry="2.5" fill="#2dd7e1"/>
<ellipse class="d" cx="84.82" cy="60.90" rx="2.3" ry="2.5" fill="#6cec58"/>
<ellipse class="d" cx="89.20" cy="60.90" rx="2.3" ry="2.5" fill="#2dd7e1"/>
<ellipse class="d" cx="97.96" cy="60.90" rx="2.3" ry="2.5" fill="#2dd7e1"/>
<ellipse class="d" cx="102.34" cy="60.90" rx="2.3" ry="2.5" fill="#2dd7e1"/>
<ellipse class="d" cx="106.72" cy="60.90" rx="2.3" ry="2.5" fill="#3ce0aa"/>
<ellipse class="d" cx="111.10" cy="60.90" rx="2.3" ry="2.5" fill="#6cec58"/>
<ellipse class="d" cx="115.48" cy="60.90" rx="2.3" ry="2.5" fill="#6cec58"/>
<ellipse class="d" cx="119.86" cy="60.90" rx="2.3" ry="2.5" fill="#6cec58"/>
<ellipse class="d" cx="124.24" cy="60.90" rx="2.3" ry="2.5" fill="#6cec58"/>
<ellipse class="d" cx="128.62" cy="60.90" rx="2.3" ry="2.5" fill="#6cec58"/>
<ellipse class="d" cx="133.00" cy="60.90" rx="2.3" ry="2.5" fill="#3ce0aa"/>
<ellipse class="d" cx="137.38" cy="60.90" rx="2.3" ry="2.5" fill="#2d9fe5"/>
<ellipse class="d" cx="141.76" cy="60.90" rx="2.3" ry="2.5" fill="#2a70e6"/>
<ellipse class="d" cx="146.14" cy="60.90" rx="2.3" ry="2.5" fill="#223ce7"/>
<ellipse class="d" cx="150.52" cy="60.90" rx="2.3" ry="2.5" fill="#223ce7"/>
<ellipse class="d" cx="84.82" cy="66.24" rx="2.3" ry="2.5" fill="#6cec58"/>
<ellipse class="d" cx="89.20" cy="66.24" rx="2.3" ry="2.5" fill="#3ce0aa"/>
<ellipse class="d" cx="93.58" cy="66.24" rx="2.3" ry="2.5" fill="#2d9fe5"/>
<ellipse class="d" cx="102.34" cy="66.24" rx="2.3" ry="2.5" fill="#3ce0aa"/>
<ellipse class="d" cx="111.10" cy="66.24" rx="2.3" ry="2.5" fill="#6cec58"/>
<ellipse class="d" cx="115.48" cy="66.24" rx="2.3" ry="2.5" fill="#6cec58"/>
<ellipse class="d" cx="119.86" cy="66.24" rx="2.3" ry="2.5" fill="#6cec58"/>
<ellipse class="d" cx="124.24" cy="66.24" rx="2.3" ry="2.5" fill="#6cec58"/>
<ellipse class="d" cx="128.62" cy="66.24" rx="2.3" ry="2.5" fill="#6cec58"/>
<ellipse class="d" cx="133.00" cy="66.24" rx="2.3" ry="2.5" fill="#6cec58"/>
<ellipse class="d" cx="137.38" cy="66.24" rx="2.3" ry="2.5" fill="#2d9fe5"/>
<ellipse class="d" cx="141.76" cy="66.24" rx="2.3" ry="2.5" fill="#2a70e6"/>
<ellipse class="d" cx="146.14" cy="66.24" rx="2.3" ry="2.5" fill="#2a70e6"/>
<ellipse class="d" cx="150.52" cy="66.24" rx="2.3" ry="2.5" fill="#2d9fe5"/>
<ellipse class="d" cx="84.82" cy="71.58" rx="2.3" ry="2.5" fill="#6cec58"/>
<ellipse class="d" cx="89.20" cy="71.58" rx="2.3" ry="2.5" fill="#3ce0aa"/>
<ellipse class="d" cx="93.58" cy="71.58" rx="2.3" ry="2.5" fill="#2dd7e1"/>
<ellipse class="d" cx="97.96" cy="71.58" rx="2.3" ry="2.5" fill="#3ce0aa"/>
<ellipse class="d" cx="102.34" cy="71.58" rx="2.3" ry="2.5" fill="#3ce0aa"/>
<ellipse class="d" cx="111.10" cy="71.58" rx="2.3" ry="2.5" fill="#6cec58"/>
<ellipse class="d" cx="115.48" cy="71.58" rx="2.3" ry="2.5" fill="#6cec58"/>
<ellipse class="d" cx="119.86" cy="71.58" rx="2.3" ry="2.5" fill="#6cec58"/>
<ellipse class="d" cx="124.24" cy="71.58" rx="2.3" ry="2.5" fill="#6cec58"/>
<ellipse class="d" cx="128.62" cy="71.58" rx="2.3" ry="2.5" fill="#6cec58"/>
<ellipse class="d" cx="133.00" cy="71.58" rx="2.3" ry="2.5" fill="#6cec58"/>
<ellipse class="d" cx="137.38" cy="71.58" rx="2.3" ry="2.5" fill="#3ce0aa"/>
<ellipse class="d" cx="141.76" cy="71.58" rx="2.3" ry="2.5" fill="#2dd7e1"/>
<ellipse class="d" cx="146.14" cy="71.58" rx="2.3" ry="2.5" fill="#2dd7e1"/>
<ellipse class="d" cx="150.52" cy="71.58" rx="2.3" ry="2.5" fill="#2dd7e1"/>
<ellipse class="d" cx="154.90" cy="71.58" rx="2.3" ry="2.5" fill="#2dd7e1"/>
<ellipse class="d" cx="80.44" cy="76.92" rx="2.3" ry="2.5" fill="#76ed4b"/>
<ellipse class="d" cx="84.82" cy="76.92" rx="2.3" ry="2.5" fill="#6cec58"/>
<ellipse class="d" cx="89.20" cy="76.92" rx="2.3" ry="2.5" fill="#6cec58"/>
<ellipse class="d" cx="93.58" cy="76.92" rx="2.3" ry="2.5" fill="#3ce0aa"/>
<ellipse class="d" cx="97.96" cy="76.92" rx="2.3" ry="2.5" fill="#6cec58"/>
<ellipse class="d" cx="106.72" cy="76.92" rx="2.3" ry="2.5" fill="#6cec58"/>
<ellipse class="d" cx="111.10" cy="76.92" rx="2.3" ry="2.5" fill="#6cec58"/>
<ellipse class="d" cx="115.48" cy="76.92" rx="2.3" ry="2.5" fill="#6cec58"/>
<ellipse class="d" cx="119.86" cy="76.92" rx="2.3" ry="2.5" fill="#6cec58"/>
<ellipse class="d" cx="124.24" cy="76.92" rx="2.3" ry="2.5" fill="#6cec58"/>
<ellipse class="d" cx="128.62" cy="76.92" rx="2.3" ry="2.5" fill="#6cec58"/>
<ellipse class="d" cx="133.00" cy="76.92" rx="2.3" ry="2.5" fill="#6cec58"/>
<ellipse class="d" cx="137.38" cy="76.92" rx="2.3" ry="2.5" fill="#3ce0aa"/>
<ellipse class="d" cx="141.76" cy="76.92" rx="2.3" ry="2.5" fill="#3ce0aa"/>
<ellipse class="d" cx="146.14" cy="76.92" rx="2.3" ry="2.5" fill="#3ce0aa"/>
<ellipse class="d" cx="150.52" cy="76.92" rx="2.3" ry="2.5" fill="#3ce0aa"/>
<ellipse class="d" cx="154.90" cy="76.92" rx="2.3" ry="2.5" fill="#3ce0aa"/>
<ellipse class="d" cx="84.82" cy="82.26" rx="2.3" ry="2.5" fill="#96e42d"/>
<ellipse class="d" cx="89.20" cy="82.26" rx="2.3" ry="2.5" fill="#6cec58"/>
<ellipse class="d" cx="93.58" cy="82.26" rx="2.3" ry="2.5" fill="#6cec58"/>
<ellipse class="d" cx="97.96" cy="82.26" rx="2.3" ry="2.5" fill="#6cec58"/>
<ellipse class="d" cx="102.34" cy="82.26" rx="2.3" ry="2.5" fill="#6cec58"/>
<ellipse class="d" cx="106.72" cy="82.26" rx="2.3" ry="2.5" fill="#6cec58"/>
<ellipse class="d" cx="111.10" cy="82.26" rx="2.3" ry="2.5" fill="#6cec58"/>
<ellipse class="d" cx="115.48" cy="82.26" rx="2.3" ry="2.5" fill="#6cec58"/>
<ellipse class="d" cx="119.86" cy="82.26" rx="2.3" ry="2.5" fill="#6cec58"/>
<ellipse class="d" cx="124.24" cy="82.26" rx="2.3" ry="2.5" fill="#6cec58"/>
<ellipse class="d" cx="128.62" cy="82.26" rx="2.3" ry="2.5" fill="#6cec58"/>
<ellipse class="d" cx="133.00" cy="82.26" rx="2.3" ry="2.5" fill="#6cec58"/>
<ellipse class="d" cx="137.38" cy="82.26" rx="2.3" ry="2.5" fill="#6cec58"/>
<ellipse class="d" cx="141.76" cy="82.26" rx="2.3" ry="2.5" fill="#3ce0aa"/>
<ellipse class="d" cx="146.14" cy="82.26" rx="2.3" ry="2.5" fill="#3ce0aa"/>
<ellipse class="d" cx="150.52" cy="82.26" rx="2.3" ry="2.5" fill="#3ce0aa"/>
<ellipse class="d" cx="159.28" cy="82.26" rx="2.3" ry="2.5" fill="#6cec58"/>
<ellipse class="d" cx="80.44" cy="87.60" rx="2.3" ry="2.5" fill="#96e42d"/>
<ellipse class="d" cx="84.82" cy="87.60" rx="2.3" ry="2.5" fill="#96e42d"/>
<ellipse class="d" cx="89.20" cy="87.60" rx="2.3" ry="2.5" fill="#76ed4b"/>
<ellipse class="d" cx="93.58" cy="87.60" rx="2.3" ry="2.5" fill="#6cec58"/>
<ellipse class="d" cx="106.72" cy="87.60" rx="2.3" ry="2.5" fill="#6cec58"/>
<ellipse class="d" cx="111.10" cy="87.60" rx="2.3" ry="2.5" fill="#6cec58"/>
<ellipse class="d" cx="115.48" cy="87.60" rx="2.3" ry="2.5" fill="#6cec58"/>
<ellipse class="d" cx="119.86" cy="87.60" rx="2.3" ry="2.5" fill="#6cec58"/>
<ellipse class="d" cx="137.38" cy="87.60" rx="2.3" ry="2.5" fill="#3ce0aa"/>
<ellipse class="d" cx="141.76" cy="87.60" rx="2.3" ry="2.5" fill="#3ce0aa"/>
<ellipse class="d" cx="146.14" cy="87.60" rx="2.3" ry="2.5" fill="#2dd7e1"/>
<ellipse class="d" cx="150.52" cy="87.60" rx="2.3" ry="2.5" fill="#2dd7e1"/>
<ellipse class="d" cx="154.90" cy="87.60" rx="2.3" ry="2.5" fill="#3ce0aa"/>
<ellipse class="d" cx="80.44" cy="92.94" rx="2.3" ry="2.5" fill="#96e42d"/>
<ellipse class="d" cx="84.82" cy="92.94" rx="2.3" ry="2.5" fill="#c3e123"/>
<ellipse class="d" cx="89.20" cy="92.94" rx="2.3" ry="2.5" fill="#96e42d"/>
<ellipse class="d" cx="97.96" cy="92.94" rx="2.3" ry="2.5" fill="#6cec58"/>
<ellipse class="d" cx="102.34" cy="92.94" rx="2.3" ry="2.5" fill="#6cec58"/>
<ellipse class="d" cx="106.72" cy="92.94" rx="2.3" ry="2.5" fill="#6cec58"/>
<ellipse class="d" cx="115.48" cy="92.94" rx="2.3" ry="2.5" fill="#6cec58"/>
<ellipse class="d" cx="119.86" cy="92.94" rx="2.3" ry="2.5" fill="#6cec58"/>
<ellipse class="d" cx="124.24" cy="92.94" rx="2.3" ry="2.5" fill="#6cec58"/>
<ellipse class="d" cx="128.62" cy="92.94" rx="2.3" ry="2.5" fill="#6cec58"/>
<ellipse class="d" cx="137.38" cy="92.94" rx="2.3" ry="2.5" fill="#3ce0aa"/>
<ellipse class="d" cx="141.76" cy="92.94" rx="2.3" ry="2.5" fill="#3ce0aa"/>
<ellipse class="d" cx="146.14" cy="92.94" rx="2.3" ry="2.5" fill="#2dd7e1"/>
<ellipse class="d" cx="150.52" cy="92.94" rx="2.3" ry="2.5" fill="#3ce0aa"/>
<ellipse class="d" cx="154.90" cy="92.94" rx="2.3" ry="2.5" fill="#3ce0aa"/>
<ellipse class="d" cx="84.82" cy="98.28" rx="2.3" ry="2.5" fill="#c3e123"/>
<ellipse class="d" cx="89.20" cy="98.28" rx="2.3" ry="2.5" fill="#96e42d"/>
<ellipse class="d" cx="93.58" cy="98.28" rx="2.3" ry="2.5" fill="#c3e123"/>
<ellipse class="d" cx="102.34" cy="98.28" rx="2.3" ry="2.5" fill="#76ed4b"/>
<ellipse class="d" cx="124.24" cy="98.28" rx="2.3" ry="2.5" fill="#6cec58"/>
<ellipse class="d" cx="128.62" cy="98.28" rx="2.3" ry="2.5" fill="#6cec58"/>
<ellipse class="d" cx="133.00" cy="98.28" rx="2.3" ry="2.5" fill="#3ce0aa"/>
<ellipse class="d" cx="137.38" cy="98.28" rx="2.3" ry="2.5" fill="#3ce0aa"/>
<ellipse class="d" cx="141.76" cy="98.28" rx="2.3" ry="2.5" fill="#3ce0aa"/>
<ellipse class="d" cx="146.14" cy="98.28" rx="2.3" ry="2.5" fill="#2dd7e1"/>
<ellipse class="d" cx="150.52" cy="98.28" rx="2.3" ry="2.5" fill="#3ce0aa"/>
<ellipse class="d" cx="154.90" cy="98.28" rx="2.3" ry="2.5" fill="#3ce0aa"/>
<ellipse class="d" cx="80.44" cy="103.62" rx="2.3" ry="2.5" fill="#96e42d"/>
<ellipse class="d" cx="89.20" cy="103.62" rx="2.3" ry="2.5" fill="#f0d719"/>
<ellipse class="d" cx="93.58" cy="103.62" rx="2.3" ry="2.5" fill="#f48714"/>
<ellipse class="d" cx="97.96" cy="103.62" rx="2.3" ry="2.5" fill="#c3e123"/>
<ellipse class="d" cx="102.34" cy="103.62" rx="2.3" ry="2.5" fill="#96e42d"/>
<ellipse class="d" cx="119.86" cy="103.62" rx="2.3" ry="2.5" fill="#6cec58"/>
<ellipse class="d" cx="137.38" cy="103.62" rx="2.3" ry="2.5" fill="#3ce0aa"/>
<ellipse class="d" cx="141.76" cy="103.62" rx="2.3" ry="2.5" fill="#3ce0aa"/>
<ellipse class="d" cx="146.14" cy="103.62" rx="2.3" ry="2.5" fill="#3ce0aa"/>
<ellipse class="d" cx="80.44" cy="108.96" rx="2.3" ry="2.5" fill="#96e42d"/>
<ellipse class="d" cx="84.82" cy="108.96" rx="2.3" ry="2.5" fill="#c3e123"/>
<ellipse class="d" cx="93.58" cy="108.96" rx="2.3" ry="2.5" fill="#f05a14"/>
<ellipse class="d" cx="97.96" cy="108.96" rx="2.3" ry="2.5" fill="#f0d719"/>
<ellipse class="d" cx="102.34" cy="108.96" rx="2.3" ry="2.5" fill="#96e42d"/>
<ellipse class="d" cx="106.72" cy="108.96" rx="2.3" ry="2.5" fill="#76ed4b"/>
<ellipse class="d" cx="111.10" cy="108.96" rx="2.3" ry="2.5" fill="#6cec58"/>
<ellipse class="d" cx="115.48" cy="108.96" rx="2.3" ry="2.5" fill="#6cec58"/>
<ellipse class="d" cx="133.00" cy="108.96" rx="2.3" ry="2.5" fill="#3ce0aa"/>
<ellipse class="d" cx="137.38" cy="108.96" rx="2.3" ry="2.5" fill="#3ce0aa"/>
<ellipse class="d" cx="141.76" cy="108.96" rx="2.3" ry="2.5" fill="#3ce0aa"/>
<ellipse class="d" cx="54.16" cy="114.30" rx="2.3" ry="2.5" fill="#3ce0aa"/>
<ellipse class="d" cx="58.54" cy="114.30" rx="2.3" ry="2.5" fill="#55e778"/>
<ellipse class="d" cx="80.44" cy="114.30" rx="2.3" ry="2.5" fill="#96e42d"/>
<ellipse class="d" cx="84.82" cy="114.30" rx="2.3" ry="2.5" fill="#f0d719"/>
<ellipse class="d" cx="89.20" cy="114.30" rx="2.3" ry="2.5" fill="#f48714"/>
<ellipse class="d" cx="93.58" cy="114.30" rx="2.3" ry="2.5" fill="#f48714"/>
<ellipse class="d" cx="102.34" cy="114.30" rx="2.3" ry="2.5" fill="#96e42d"/>
<ellipse class="d" cx="106.72" cy="114.30" rx="2.3" ry="2.5" fill="#76ed4b"/>
<ellipse class="d" cx="111.10" cy="114.30" rx="2.3" ry="2.5" fill="#6cec58"/>
<ellipse class="d" cx="128.62" cy="114.30" rx="2.3" ry="2.5" fill="#3ce0aa"/>
<ellipse class="d" cx="133.00" cy="114.30" rx="2.3" ry="2.5" fill="#3ce0aa"/>
<ellipse class="d" cx="137.38" cy="114.30" rx="2.3" ry="2.5" fill="#3ce0aa"/>
<ellipse class="d" cx="80.44" cy="119.64" rx="2.3" ry="2.5" fill="#96e42d"/>
<ellipse class="d" cx="93.58" cy="119.64" rx="2.3" ry="2.5" fill="#f05a14"/>
<ellipse class="d" cx="97.96" cy="119.64" rx="2.3" ry="2.5" fill="#f48714"/>
<ellipse class="d" cx="106.72" cy="119.64" rx="2.3" ry="2.5" fill="#76ed4b"/>
<ellipse class="d" cx="111.10" cy="119.64" rx="2.3" ry="2.5" fill="#6cec58"/>
<ellipse class="d" cx="119.86" cy="119.64" rx="2.3" ry="2.5" fill="#55e778"/>
<ellipse class="d" cx="124.24" cy="119.64" rx="2.3" ry="2.5" fill="#3ce0aa"/>
<ellipse class="d" cx="128.62" cy="119.64" rx="2.3" ry="2.5" fill="#2dd7e1"/>
<ellipse class="d" cx="133.00" cy="119.64" rx="2.3" ry="2.5" fill="#2d9fe5"/>
<ellipse class="d" cx="137.38" cy="119.64" rx="2.3" ry="2.5" fill="#2d9fe5"/>
<ellipse class="d" cx="80.44" cy="124.98" rx="2.3" ry="2.5" fill="#96e42d"/>
<ellipse class="d" cx="84.82" cy="124.98" rx="2.3" ry="2.5" fill="#f0d719"/>
<ellipse class="d" cx="89.20" cy="124.98" rx="2.3" ry="2.5" fill="#f05a14"/>
<ellipse class="d" cx="93.58" cy="124.98" rx="2.3" ry="2.5" fill="#f05a14"/>
<ellipse class="d" cx="97.96" cy="124.98" rx="2.3" ry="2.5" fill="#f48714"/>
<ellipse class="d" cx="106.72" cy="124.98" rx="2.3" ry="2.5" fill="#76ed4b"/>
<ellipse class="d" cx="115.48" cy="124.98" rx="2.3" ry="2.5" fill="#55e778"/>
<ellipse class="d" cx="124.24" cy="124.98" rx="2.3" ry="2.5" fill="#2a70e6"/>
<ellipse class="d" cx="128.62" cy="124.98" rx="2.3" ry="2.5" fill="#2a70e6"/>
<ellipse class="d" cx="133.00" cy="124.98" rx="2.3" ry="2.5" fill="#2a70e6"/>
<ellipse class="d" cx="54.16" cy="130.32" rx="2.3" ry="2.5" fill="#6cec58"/>
<ellipse class="d" cx="58.54" cy="130.32" rx="2.3" ry="2.5" fill="#6cec58"/>
<ellipse class="d" cx="62.92" cy="130.32" rx="2.3" ry="2.5" fill="#6cec58"/>
<ellipse class="d" cx="67.30" cy="130.32" rx="2.3" ry="2.5" fill="#6cec58"/>
<ellipse class="d" cx="76.06" cy="130.32" rx="2.3" ry="2.5" fill="#76ed4b"/>
<ellipse class="d" cx="80.44" cy="130.32" rx="2.3" ry="2.5" fill="#96e42d"/>
<ellipse class="d" cx="84.82" cy="130.32" rx="2.3" ry="2.5" fill="#f0d719"/>
<ellipse class="d" cx="93.58" cy="130.32" rx="2.3" ry="2.5" fill="#f05a14"/>
<ellipse class="d" cx="97.96" cy="130.32" rx="2.3" ry="2.5" fill="#f48714"/>
<ellipse class="d" cx="102.34" cy="130.32" rx="2.3" ry="2.5" fill="#f0d719"/>
<ellipse class="d" cx="119.86" cy="130.32" rx="2.3" ry="2.5" fill="#2a70e6"/>
<ellipse class="d" cx="124.24" cy="130.32" rx="2.3" ry="2.5" fill="#2a70e6"/>
<ellipse class="d" cx="128.62" cy="130.32" rx="2.3" ry="2.5" fill="#2a70e6"/>
<ellipse class="d" cx="133.00" cy="130.32" rx="2.3" ry="2.5" fill="#2a70e6"/>
<ellipse class="d" cx="58.54" cy="135.66" rx="2.3" ry="2.5" fill="#6cec58"/>
<ellipse class="d" cx="62.92" cy="135.66" rx="2.3" ry="2.5" fill="#6cec58"/>
<ellipse class="d" cx="67.30" cy="135.66" rx="2.3" ry="2.5" fill="#6cec58"/>
<ellipse class="d" cx="71.68" cy="135.66" rx="2.3" ry="2.5" fill="#76ed4b"/>
<ellipse class="d" cx="76.06" cy="135.66" rx="2.3" ry="2.5" fill="#76ed4b"/>
<ellipse class="d" cx="80.44" cy="135.66" rx="2.3" ry="2.5" fill="#96e42d"/>
<ellipse class="d" cx="84.82" cy="135.66" rx="2.3" ry="2.5" fill="#f0d719"/>
<ellipse class="d" cx="102.34" cy="135.66" rx="2.3" ry="2.5" fill="#96e42d"/>
<ellipse class="d" cx="111.10" cy="135.66" rx="2.3" ry="2.5" fill="#55e778"/>
<ellipse class="d" cx="115.48" cy="135.66" rx="2.3" ry="2.5" fill="#2d9fe5"/>
<ellipse class="d" cx="119.86" cy="135.66" rx="2.3" ry="2.5" fill="#2a70e6"/>
<ellipse class="d" cx="124.24" cy="135.66" rx="2.3" ry="2.5" fill="#2a70e6"/>
<ellipse class="d" cx="128.62" cy="135.66" rx="2.3" ry="2.5" fill="#2d9fe5"/>
<ellipse class="d" cx="49.78" cy="141.00" rx="2.3" ry="2.5" fill="#6cec58"/>
<ellipse class="d" cx="54.16" cy="141.00" rx="2.3" ry="2.5" fill="#6cec58"/>
<ellipse class="d" cx="58.54" cy="141.00" rx="2.3" ry="2.5" fill="#6cec58"/>
<ellipse class="d" cx="62.92" cy="141.00" rx="2.3" ry="2.5" fill="#6cec58"/>
<ellipse class="d" cx="67.30" cy="141.00" rx="2.3" ry="2.5" fill="#6cec58"/>
<ellipse class="d" cx="71.68" cy="141.00" rx="2.3" ry="2.5" fill="#76ed4b"/>
<ellipse class="d" cx="76.06" cy="141.00" rx="2.3" ry="2.5" fill="#96e42d"/>
<ellipse class="d" cx="80.44" cy="141.00" rx="2.3" ry="2.5" fill="#c3e123"/>
<ellipse class="d" cx="84.82" cy="141.00" rx="2.3" ry="2.5" fill="#f0d719"/>
<ellipse class="d" cx="106.72" cy="141.00" rx="2.3" ry="2.5" fill="#55e778"/>
<ellipse class="d" cx="111.10" cy="141.00" rx="2.3" ry="2.5" fill="#55e778"/>
<ellipse class="d" cx="115.48" cy="141.00" rx="2.3" ry="2.5" fill="#2dd7e1"/>
<ellipse class="d" cx="119.86" cy="141.00" rx="2.3" ry="2.5" fill="#2dd7e1"/>
<ellipse class="d" cx="124.24" cy="141.00" rx="2.3" ry="2.5" fill="#2dd7e1"/>
<ellipse class="d" cx="128.62" cy="141.00" rx="2.3" ry="2.5" fill="#2d9fe5"/>
<ellipse class="d" cx="23.50" cy="146.34" rx="2.3" ry="2.5" fill="#2dd7e1"/>
<ellipse class="d" cx="27.88" cy="146.34" rx="2.3" ry="2.5" fill="#3ce0aa"/>
<ellipse class="d" cx="32.26" cy="146.34" rx="2.3" ry="2.5" fill="#3ce0aa"/>
<ellipse class="d" cx="36.64" cy="146.34" rx="2.3" ry="2.5" fill="#3ce0aa"/>
<ellipse class="d" cx="49.78" cy="146.34" rx="2.3" ry="2.5" fill="#6cec58"/>
<ellipse class="d" cx="54.16" cy="146.34" rx="2.3" ry="2.5" fill="#6cec58"/>
<ellipse class="d" cx="58.54" cy="146.34" rx="2.3" ry="2.5" fill="#6cec58"/>
<ellipse class="d" cx="62.92" cy="146.34" rx="2.3" ry="2.5" fill="#6cec58"/>
<ellipse class="d" cx="76.06" cy="146.34" rx="2.3" ry="2.5" fill="#76ed4b"/>
<ellipse class="d" cx="102.34" cy="146.34" rx="2.3" ry="2.5" fill="#6cec58"/>
<ellipse class="d" cx="106.72" cy="146.34" rx="2.3" ry="2.5" fill="#55e778"/>
<ellipse class="d" cx="111.10" cy="146.34" rx="2.3" ry="2.5" fill="#55e778"/>
<ellipse class="d" cx="115.48" cy="146.34" rx="2.3" ry="2.5" fill="#55e778"/>
<ellipse class="d" cx="119.86" cy="146.34" rx="2.3" ry="2.5" fill="#55e778"/>
<ellipse class="d" cx="124.24" cy="146.34" rx="2.3" ry="2.5" fill="#55e778"/>
<ellipse class="d" cx="23.50" cy="151.68" rx="2.3" ry="2.5" fill="#3ce0aa"/>
<ellipse class="d" cx="27.88" cy="151.68" rx="2.3" ry="2.5" fill="#3ce0aa"/>
<ellipse class="d" cx="32.26" cy="151.68" rx="2.3" ry="2.5" fill="#3ce0aa"/>
<ellipse class="d" cx="41.02" cy="151.68" rx="2.3" ry="2.5" fill="#6cec58"/>
<ellipse class="d" cx="45.40" cy="151.68" rx="2.3" ry="2.5" fill="#6cec58"/>
<ellipse class="d" cx="62.92" cy="151.68" rx="2.3" ry="2.5" fill="#6cec58"/>
<ellipse class="d" cx="67.30" cy="151.68" rx="2.3" ry="2.5" fill="#76ed4b"/>
<ellipse class="d" cx="71.68" cy="151.68" rx="2.3" ry="2.5" fill="#76ed4b"/>
<ellipse class="d" cx="89.20" cy="151.68" rx="2.3" ry="2.5" fill="#76ed4b"/>
<ellipse class="d" cx="93.58" cy="151.68" rx="2.3" ry="2.5" fill="#6cec58"/>
<ellipse class="d" cx="97.96" cy="151.68" rx="2.3" ry="2.5" fill="#6cec58"/>
<ellipse class="d" cx="102.34" cy="151.68" rx="2.3" ry="2.5" fill="#55e778"/>
<ellipse class="d" cx="106.72" cy="151.68" rx="2.3" ry="2.5" fill="#55e778"/>
<ellipse class="d" cx="111.10" cy="151.68" rx="2.3" ry="2.5" fill="#55e778"/>
<ellipse class="d" cx="115.48" cy="151.68" rx="2.3" ry="2.5" fill="#55e778"/>
<ellipse class="d" cx="119.86" cy="151.68" rx="2.3" ry="2.5" fill="#55e778"/>
<ellipse class="d" cx="124.24" cy="151.68" rx="2.3" ry="2.5" fill="#55e778"/>
<ellipse class="d" cx="23.50" cy="157.02" rx="2.3" ry="2.5" fill="#6cec58"/>
<ellipse class="d" cx="27.88" cy="157.02" rx="2.3" ry="2.5" fill="#6cec58"/>
<ellipse class="d" cx="41.02" cy="157.02" rx="2.3" ry="2.5" fill="#6cec58"/>
<ellipse class="d" cx="45.40" cy="157.02" rx="2.3" ry="2.5" fill="#6cec58"/>
<ellipse class="d" cx="49.78" cy="157.02" rx="2.3" ry="2.5" fill="#6cec58"/>
<ellipse class="d" cx="54.16" cy="157.02" rx="2.3" ry="2.5" fill="#6cec58"/>
<ellipse class="d" cx="58.54" cy="157.02" rx="2.3" ry="2.5" fill="#6cec58"/>
<ellipse class="d" cx="62.92" cy="157.02" rx="2.3" ry="2.5" fill="#6cec58"/>
<ellipse class="d" cx="67.30" cy="157.02" rx="2.3" ry="2.5" fill="#6cec58"/>
<ellipse class="d" cx="71.68" cy="157.02" rx="2.3" ry="2.5" fill="#76ed4b"/>
<ellipse class="d" cx="80.44" cy="157.02" rx="2.3" ry="2.5" fill="#76ed4b"/>
<ellipse class="d" cx="84.82" cy="157.02" rx="2.3" ry="2.5" fill="#6cec58"/>
<ellipse class="d" cx="89.20" cy="157.02" rx="2.3" ry="2.5" fill="#6cec58"/>
<ellipse class="d" cx="93.58" cy="157.02" rx="2.3" ry="2.5" fill="#55e778"/>
<ellipse class="d" cx="97.96" cy="157.02" rx="2.3" ry="2.5" fill="#55e778"/>
<ellipse class="d" cx="102.34" cy="157.02" rx="2.3" ry="2.5" fill="#55e778"/>
<ellipse class="d" cx="106.72" cy="157.02" rx="2.3" ry="2.5" fill="#55e778"/>
<ellipse class="d" cx="111.10" cy="157.02" rx="2.3" ry="2.5" fill="#55e778"/>
<ellipse class="d" cx="115.48" cy="157.02" rx="2.3" ry="2.5" fill="#55e778"/>
<ellipse class="d" cx="119.86" cy="157.02" rx="2.3" ry="2.5" fill="#55e778"/>
<ellipse class="d" cx="124.24" cy="157.02" rx="2.3" ry="2.5" fill="#55e778"/>
<ellipse class="d" cx="49.78" cy="162.36" rx="2.3" ry="2.5" fill="#6cec58"/>
<ellipse class="d" cx="58.54" cy="162.36" rx="2.3" ry="2.5" fill="#6cec58"/>
<ellipse class="d" cx="62.92" cy="162.36" rx="2.3" ry="2.5" fill="#6cec58"/>
<ellipse class="d" cx="67.30" cy="162.36" rx="2.3" ry="2.5" fill="#6cec58"/>
<ellipse class="d" cx="71.68" cy="162.36" rx="2.3" ry="2.5" fill="#6cec58"/>
<ellipse class="d" cx="76.06" cy="162.36" rx="2.3" ry="2.5" fill="#6cec58"/>
<ellipse class="d" cx="80.44" cy="162.36" rx="2.3" ry="2.5" fill="#55e778"/>
<ellipse class="d" cx="84.82" cy="162.36" rx="2.3" ry="2.5" fill="#55e778"/>
<ellipse class="d" cx="89.20" cy="162.36" rx="2.3" ry="2.5" fill="#55e778"/>
<ellipse class="d" cx="93.58" cy="162.36" rx="2.3" ry="2.5" fill="#55e778"/>
<ellipse class="d" cx="97.96" cy="162.36" rx="2.3" ry="2.5" fill="#55e778"/>
<ellipse class="d" cx="102.34" cy="162.36" rx="2.3" ry="2.5" fill="#55e778"/>
<ellipse class="d" cx="106.72" cy="162.36" rx="2.3" ry="2.5" fill="#55e778"/>
<ellipse class="d" cx="111.10" cy="162.36" rx="2.3" ry="2.5" fill="#55e778"/>
<ellipse class="d" cx="115.48" cy="162.36" rx="2.3" ry="2.5" fill="#55e778"/>
<ellipse class="d" cx="119.86" cy="162.36" rx="2.3" ry="2.5" fill="#3ce0aa"/>
<ellipse class="d" cx="36.64" cy="167.70" rx="2.3" ry="2.5" fill="#6cec58"/>
<ellipse class="d" cx="41.02" cy="167.70" rx="2.3" ry="2.5" fill="#6cec58"/>
<ellipse class="d" cx="45.40" cy="167.70" rx="2.3" ry="2.5" fill="#6cec58"/>
<ellipse class="d" cx="49.78" cy="167.70" rx="2.3" ry="2.5" fill="#6cec58"/>
<ellipse class="d" cx="54.16" cy="167.70" rx="2.3" ry="2.5" fill="#6cec58"/>
<ellipse class="d" cx="58.54" cy="167.70" rx="2.3" ry="2.5" fill="#6cec58"/>
<ellipse class="d" cx="62.92" cy="167.70" rx="2.3" ry="2.5" fill="#6cec58"/>
<ellipse class="d" cx="67.30" cy="167.70" rx="2.3" ry="2.5" fill="#6cec58"/>
<ellipse class="d" cx="71.68" cy="167.70" rx="2.3" ry="2.5" fill="#6cec58"/>
<ellipse class="d" cx="76.06" cy="167.70" rx="2.3" ry="2.5" fill="#6cec58"/>
<ellipse class="d" cx="80.44" cy="167.70" rx="2.3" ry="2.5" fill="#55e778"/>
<ellipse class="d" cx="84.82" cy="167.70" rx="2.3" ry="2.5" fill="#55e778"/>
<ellipse class="d" cx="89.20" cy="167.70" rx="2.3" ry="2.5" fill="#3ce0aa"/>
<ellipse class="d" cx="93.58" cy="167.70" rx="2.3" ry="2.5" fill="#3ce0aa"/>
<ellipse class="d" cx="97.96" cy="167.70" rx="2.3" ry="2.5" fill="#2dd7e1"/>
<ellipse class="d" cx="102.34" cy="167.70" rx="2.3" ry="2.5" fill="#3ce0aa"/>
<ellipse class="d" cx="106.72" cy="167.70" rx="2.3" ry="2.5" fill="#2dd7e1"/>
<ellipse class="d" cx="111.10" cy="167.70" rx="2.3" ry="2.5" fill="#3ce0aa"/>
<ellipse class="d" cx="115.48" cy="167.70" rx="2.3" ry="2.5" fill="#3ce0aa"/>
<ellipse class="d" cx="119.86" cy="167.70" rx="2.3" ry="2.5" fill="#2dd7e1"/>
<ellipse class="d" cx="41.02" cy="173.04" rx="2.3" ry="2.5" fill="#6cec58"/>
<ellipse class="d" cx="45.40" cy="173.04" rx="2.3" ry="2.5" fill="#6cec58"/>
<ellipse class="d" cx="54.16" cy="173.04" rx="2.3" ry="2.5" fill="#6cec58"/>
<ellipse class="d" cx="58.54" cy="173.04" rx="2.3" ry="2.5" fill="#6cec58"/>
<ellipse class="d" cx="62.92" cy="173.04" rx="2.3" ry="2.5" fill="#6cec58"/>
<ellipse class="d" cx="67.30" cy="173.04" rx="2.3" ry="2.5" fill="#6cec58"/>
<ellipse class="d" cx="71.68" cy="173.04" rx="2.3" ry="2.5" fill="#3ce0aa"/>
<ellipse class="d" cx="76.06" cy="173.04" rx="2.3" ry="2.5" fill="#2dd7e1"/>
<ellipse class="d" cx="80.44" cy="173.04" rx="2.3" ry="2.5" fill="#2dd7e1"/>
<ellipse class="d" cx="84.82" cy="173.04" rx="2.3" ry="2.5" fill="#2d9fe5"/>
<ellipse class="d" cx="89.20" cy="173.04" rx="2.3" ry="2.5" fill="#2d9fe5"/>
<ellipse class="d" cx="93.58" cy="173.04" rx="2.3" ry="2.5" fill="#2d9fe5"/>
<ellipse class="d" cx="97.96" cy="173.04" rx="2.3" ry="2.5" fill="#2d9fe5"/>
<ellipse class="d" cx="102.34" cy="173.04" rx="2.3" ry="2.5" fill="#2d9fe5"/>
<ellipse class="d" cx="106.72" cy="173.04" rx="2.3" ry="2.5" fill="#2dd7e1"/>
<ellipse class="d" cx="111.10" cy="173.04" rx="2.3" ry="2.5" fill="#3ce0aa"/>
<ellipse class="d" cx="45.40" cy="178.38" rx="2.3" ry="2.5" fill="#6cec58"/>
<ellipse class="d" cx="49.78" cy="178.38" rx="2.3" ry="2.5" fill="#6cec58"/>
<ellipse class="d" cx="62.92" cy="178.38" rx="2.3" ry="2.5" fill="#6cec58"/>
<ellipse class="d" cx="67.30" cy="178.38" rx="2.3" ry="2.5" fill="#55e778"/>
<ellipse class="d" cx="71.68" cy="178.38" rx="2.3" ry="2.5" fill="#2dd7e1"/>
<ellipse class="d" cx="76.06" cy="178.38" rx="2.3" ry="2.5" fill="#2dd7e1"/>
<ellipse class="d" cx="80.44" cy="178.38" rx="2.3" ry="2.5" fill="#2d9fe5"/>
<ellipse class="d" cx="84.82" cy="178.38" rx="2.3" ry="2.5" fill="#2d9fe5"/>
<ellipse class="d" cx="89.20" cy="178.38" rx="2.3" ry="2.5" fill="#2d9fe5"/>
<ellipse class="d" cx="93.58" cy="178.38" rx="2.3" ry="2.5" fill="#2d9fe5"/>
<ellipse class="d" cx="97.96" cy="178.38" rx="2.3" ry="2.5" fill="#2d9fe5"/>
<ellipse class="d" cx="102.34" cy="178.38" rx="2.3" ry="2.5" fill="#2dd7e1"/>
<ellipse class="d" cx="106.72" cy="178.38" rx="2.3" ry="2.5" fill="#3ce0aa"/>
<ellipse class="d" cx="111.10" cy="178.38" rx="2.3" ry="2.5" fill="#3ce0aa"/>
<ellipse class="d" cx="45.40" cy="183.72" rx="2.3" ry="2.5" fill="#6cec58"/>
<ellipse class="d" cx="80.44" cy="183.72" rx="2.3" ry="2.5" fill="#2a70e6"/>
<rect x="0.75" y="0.75" width="194.5" height="237.6" class="fr"/>
</g>
<rect x="515.80" y="4.90" width="11.20" height="238.10" fill="url(#jet)" class="cb"/>
<line x1="525.00" y1="243.00" x2="527.00" y2="243.00" class="tk"/>
<text x="531.30" y="247.30" class="tl">0</text>
<line x1="525.00" y1="215.79" x2="527.00" y2="215.79" class="tk"/>
<text x="531.30" y="220.09" class="tl">4</text>
<line x1="525.00" y1="188.58" x2="527.00" y2="188.58" class="tk"/>
<text x="531.30" y="192.88" class="tl">8</text>
<line x1="525.00" y1="161.37" x2="527.00" y2="161.37" class="tk"/>
<text x="531.30" y="165.67" class="tl">12</text>
<line x1="525.00" y1="134.15" x2="527.00" y2="134.15" class="tk"/>
<text x="531.30" y="138.45" class="tl">16</text>
<line x1="525.00" y1="106.94" x2="527.00" y2="106.94" class="tk"/>
<text x="531.30" y="111.24" class="tl">20</text>
<line x1="525.00" y1="79.73" x2="527.00" y2="79.73" class="tk"/>
<text x="531.30" y="84.03" class="tl">24</text>
<line x1="525.00" y1="52.52" x2="527.00" y2="52.52" class="tk"/>
<text x="531.30" y="56.82" class="tl">28</text>
<line x1="525.00" y1="25.31" x2="527.00" y2="25.31" class="tk"/>
<text x="531.30" y="29.61" class="tl">32</text>
<text x="285.00" y="15.00" class="pl">(b)</text>
<text x="305.50" y="200.02" class="al" text-anchor="end">35°N</text>
<text x="454.95" y="256.60" class="al" text-anchor="middle">118°W</text>
<g transform="translate(28.10 278.90) scale(0.9985 0.9971)">
<svg x="0" y="0" width="196.0" height="239.1" viewBox="0 0 196.0 239.1" overflow="hidden"><use href="#terrain"/></svg>
<line x1="144.1" y1="0" x2="144.1" y2="239.1" class="gl"/>
<line x1="0" y1="192.0" x2="196.0" y2="192.0" class="gl"/>
<ellipse class="d" cx="106.72" cy="34.20" rx="2.3" ry="2.5" fill="#76ed4b"/>
<ellipse class="d" cx="106.72" cy="39.54" rx="2.3" ry="2.5" fill="#6cec58"/>
<ellipse class="d" cx="111.10" cy="39.54" rx="2.3" ry="2.5" fill="#6cec58"/>
<ellipse class="d" cx="115.48" cy="39.54" rx="2.3" ry="2.5" fill="#6cec58"/>
<ellipse class="d" cx="119.86" cy="39.54" rx="2.3" ry="2.5" fill="#6cec58"/>
<ellipse class="d" cx="124.24" cy="39.54" rx="2.3" ry="2.5" fill="#6cec58"/>
<ellipse class="d" cx="128.62" cy="39.54" rx="2.3" ry="2.5" fill="#6cec58"/>
<ellipse class="d" cx="106.72" cy="44.88" rx="2.3" ry="2.5" fill="#6cec58"/>
<ellipse class="d" cx="111.10" cy="44.88" rx="2.3" ry="2.5" fill="#6cec58"/>
<ellipse class="d" cx="115.48" cy="44.88" rx="2.3" ry="2.5" fill="#6cec58"/>
<ellipse class="d" cx="119.86" cy="44.88" rx="2.3" ry="2.5" fill="#6cec58"/>
<ellipse class="d" cx="124.24" cy="44.88" rx="2.3" ry="2.5" fill="#6cec58"/>
<ellipse class="d" cx="128.62" cy="44.88" rx="2.3" ry="2.5" fill="#6cec58"/>
<ellipse class="d" cx="133.00" cy="44.88" rx="2.3" ry="2.5" fill="#6cec58"/>
<ellipse class="d" cx="137.38" cy="44.88" rx="2.3" ry="2.5" fill="#6cec58"/>
<ellipse class="d" cx="111.10" cy="50.22" rx="2.3" ry="2.5" fill="#6cec58"/>
<ellipse class="d" cx="115.48" cy="50.22" rx="2.3" ry="2.5" fill="#6cec58"/>
<ellipse class="d" cx="119.86" cy="50.22" rx="2.3" ry="2.5" fill="#6cec58"/>
<ellipse class="d" cx="124.24" cy="50.22" rx="2.3" ry="2.5" fill="#6cec58"/>
<ellipse class="d" cx="128.62" cy="50.22" rx="2.3" ry="2.5" fill="#6cec58"/>
<ellipse class="d" cx="133.00" cy="50.22" rx="2.3" ry="2.5" fill="#6cec58"/>
<ellipse class="d" cx="137.38" cy="50.22" rx="2.3" ry="2.5" fill="#6cec58"/>
<ellipse class="d" cx="141.76" cy="50.22" rx="2.3" ry="2.5" fill="#6cec58"/>
<ellipse class="d" cx="146.14" cy="50.22" rx="2.3" ry="2.5" fill="#6cec58"/>
<ellipse class="d" cx="80.44" cy="55.56" rx="2.3" ry="2.5" fill="#76ed4b"/>
<ellipse class="d" cx="84.82" cy="55.56" rx="2.3" ry="2.5" fill="#6cec58"/>
<ellipse class="d" cx="89.20" cy="55.56" rx="2.3" ry="2.5" fill="#6cec58"/>
<ellipse class="d" cx="97.96" cy="55.56" rx="2.3" ry="2.5" fill="#6cec58"/>
<ellipse class="d" cx="102.34" cy="55.56" rx="2.3" ry="2.5" fill="#6cec58"/>
<ellipse class="d" cx="111.10" cy="55.56" rx="2.3" ry="2.5" fill="#6cec58"/>
<ellipse class="d" cx="115.48" cy="55.56" rx="2.3" ry="2.5" fill="#6cec58"/>
<ellipse class="d" cx="119.86" cy="55.56" rx="2.3" ry="2.5" fill="#6cec58"/>
<ellipse class="d" cx="124.24" cy="55.56" rx="2.3" ry="2.5" fill="#6cec58"/>
<ellipse class="d" cx="128.62" cy="55.56" rx="2.3" ry="2.5" fill="#6cec58"/>
<ellipse class="d" cx="133.00" cy="55.56" rx="2.3" ry="2.5" fill="#6cec58"/>
<ellipse class="d" cx="137.38" cy="55.56" rx="2.3" ry="2.5" fill="#6cec58"/>
<ellipse class="d" cx="141.76" cy="55.56" rx="2.3" ry="2.5" fill="#6cec58"/>
<ellipse class="d" cx="146.14" cy="55.56" rx="2.3" ry="2.5" fill="#6cec58"/>
<ellipse class="d" cx="150.52" cy="55.56" rx="2.3" ry="2.5" fill="#6cec58"/>
<ellipse class="d" cx="84.82" cy="60.90" rx="2.3" ry="2.5" fill="#6cec58"/>
<ellipse class="d" cx="89.20" cy="60.90" rx="2.3" ry="2.5" fill="#3ce0aa"/>
<ellipse class="d" cx="97.96" cy="60.90" rx="2.3" ry="2.5" fill="#3ce0aa"/>
<ellipse class="d" cx="102.34" cy="60.90" rx="2.3" ry="2.5" fill="#6cec58"/>
<ellipse class="d" cx="106.72" cy="60.90" rx="2.3" ry="2.5" fill="#6cec58"/>
<ellipse class="d" cx="111.10" cy="60.90" rx="2.3" ry="2.5" fill="#6cec58"/>
<ellipse class="d" cx="115.48" cy="60.90" rx="2.3" ry="2.5" fill="#6cec58"/>
<ellipse class="d" cx="119.86" cy="60.90" rx="2.3" ry="2.5" fill="#6cec58"/>
<ellipse class="d" cx="124.24" cy="60.90" rx="2.3" ry="2.5" fill="#6cec58"/>
<ellipse class="d" cx="128.62" cy="60.90" rx="2.3" ry="2.5" fill="#6cec58"/>
<ellipse class="d" cx="133.00" cy="60.90" rx="2.3" ry="2.5" fill="#6cec58"/>
<ellipse class="d" cx="137.38" cy="60.90" rx="2.3" ry="2.5" fill="#6cec58"/>
<ellipse class="d" cx="141.76" cy="60.90" rx="2.3" ry="2.5" fill="#6cec58"/>
<ellipse class="d" cx="146.14" cy="60.90" rx="2.3" ry="2.5" fill="#3ce0aa"/>
<ellipse class="d" cx="150.52" cy="60.90" rx="2.3" ry="2.5" fill="#3ce0aa"/>
<ellipse class="d" cx="84.82" cy="66.24" rx="2.3" ry="2.5" fill="#6cec58"/>
<ellipse class="d" cx="89.20" cy="66.24" rx="2.3" ry="2.5" fill="#6cec58"/>
<ellipse class="d" cx="93.58" cy="66.24" rx="2.3" ry="2.5" fill="#3ce0aa"/>
<ellipse class="d" cx="102.34" cy="66.24" rx="2.3" ry="2.5" fill="#6cec58"/>
<ellipse class="d" cx="111.10" cy="66.24" rx="2.3" ry="2.5" fill="#6cec58"/>
<ellipse class="d" cx="115.48" cy="66.24" rx="2.3" ry="2.5" fill="#6cec58"/>
<ellipse class="d" cx="119.86" cy="66.24" rx="2.3" ry="2.5" fill="#6cec58"/>
<ellipse class="d" cx="124.24" cy="66.24" rx="2.3" ry="2.5" fill="#6cec58"/>
<ellipse class="d" cx="128.62" cy="66.24" rx="2.3" ry="2.5" fill="#6cec58"/>
<ellipse class="d" cx="133.00" cy="66.24" rx="2.3" ry="2.5" fill="#3ce0aa"/>
<ellipse class="d" cx="137.38" cy="66.24" rx="2.3" ry="2.5" fill="#2dd7e1"/>
<ellipse class="d" cx="141.76" cy="66.24" rx="2.3" ry="2.5" fill="#2d9fe5"/>
<ellipse class="d" cx="146.14" cy="66.24" rx="2.3" ry="2.5" fill="#2d9fe5"/>
<ellipse class="d" cx="150.52" cy="66.24" rx="2.3" ry="2.5" fill="#2dd7e1"/>
<ellipse class="d" cx="84.82" cy="71.58" rx="2.3" ry="2.5" fill="#6cec58"/>
<ellipse class="d" cx="89.20" cy="71.58" rx="2.3" ry="2.5" fill="#6cec58"/>
<ellipse class="d" cx="93.58" cy="71.58" rx="2.3" ry="2.5" fill="#3ce0aa"/>
<ellipse class="d" cx="97.96" cy="71.58" rx="2.3" ry="2.5" fill="#6cec58"/>
<ellipse class="d" cx="102.34" cy="71.58" rx="2.3" ry="2.5" fill="#6cec58"/>
<ellipse class="d" cx="111.10" cy="71.58" rx="2.3" ry="2.5" fill="#6cec58"/>
<ellipse class="d" cx="115.48" cy="71.58" rx="2.3" ry="2.5" fill="#6cec58"/>
<ellipse class="d" cx="119.86" cy="71.58" rx="2.3" ry="2.5" fill="#6cec58"/>
<ellipse class="d" cx="124.24" cy="71.58" rx="2.3" ry="2.5" fill="#6cec58"/>
<ellipse class="d" cx="128.62" cy="71.58" rx="2.3" ry="2.5" fill="#6cec58"/>
<ellipse class="d" cx="133.00" cy="71.58" rx="2.3" ry="2.5" fill="#3ce0aa"/>
<ellipse class="d" cx="137.38" cy="71.58" rx="2.3" ry="2.5" fill="#2d9fe5"/>
<ellipse class="d" cx="141.76" cy="71.58" rx="2.3" ry="2.5" fill="#2a70e6"/>
<ellipse class="d" cx="146.14" cy="71.58" rx="2.3" ry="2.5" fill="#223ce7"/>
<ellipse class="d" cx="150.52" cy="71.58" rx="2.3" ry="2.5" fill="#223ce7"/>
<ellipse class="d" cx="154.90" cy="71.58" rx="2.3" ry="2.5" fill="#223ce7"/>
<ellipse class="d" cx="80.44" cy="76.92" rx="2.3" ry="2.5" fill="#6cec58"/>
<ellipse class="d" cx="84.82" cy="76.92" rx="2.3" ry="2.5" fill="#6cec58"/>
<ellipse class="d" cx="89.20" cy="76.92" rx="2.3" ry="2.5" fill="#3ce0aa"/>
<ellipse class="d" cx="93.58" cy="76.92" rx="2.3" ry="2.5" fill="#3ce0aa"/>
<ellipse class="d" cx="97.96" cy="76.92" rx="2.3" ry="2.5" fill="#3ce0aa"/>
<ellipse class="d" cx="106.72" cy="76.92" rx="2.3" ry="2.5" fill="#6cec58"/>
<ellipse class="d" cx="111.10" cy="76.92" rx="2.3" ry="2.5" fill="#6cec58"/>
<ellipse class="d" cx="115.48" cy="76.92" rx="2.3" ry="2.5" fill="#6cec58"/>
<ellipse class="d" cx="119.86" cy="76.92" rx="2.3" ry="2.5" fill="#6cec58"/>
<ellipse class="d" cx="124.24" cy="76.92" rx="2.3" ry="2.5" fill="#6cec58"/>
<ellipse class="d" cx="128.62" cy="76.92" rx="2.3" ry="2.5" fill="#6cec58"/>
<ellipse class="d" cx="133.00" cy="76.92" rx="2.3" ry="2.5" fill="#3ce0aa"/>
<ellipse class="d" cx="137.38" cy="76.92" rx="2.3" ry="2.5" fill="#2dd7e1"/>
<ellipse class="d" cx="141.76" cy="76.92" rx="2.3" ry="2.5" fill="#2a70e6"/>
<ellipse class="d" cx="146.14" cy="76.92" rx="2.3" ry="2.5" fill="#223ce7"/>
<ellipse class="d" cx="150.52" cy="76.92" rx="2.3" ry="2.5" fill="#223ce7"/>
<ellipse class="d" cx="154.90" cy="76.92" rx="2.3" ry="2.5" fill="#223ce7"/>
<ellipse class="d" cx="84.82" cy="82.26" rx="2.3" ry="2.5" fill="#6cec58"/>
<ellipse class="d" cx="89.20" cy="82.26" rx="2.3" ry="2.5" fill="#6cec58"/>
<ellipse class="d" cx="93.58" cy="82.26" rx="2.3" ry="2.5" fill="#6cec58"/>
<ellipse class="d" cx="97.96" cy="82.26" rx="2.3" ry="2.5" fill="#6cec58"/>
<ellipse class="d" cx="102.34" cy="82.26" rx="2.3" ry="2.5" fill="#6cec58"/>
<ellipse class="d" cx="106.72" cy="82.26" rx="2.3" ry="2.5" fill="#6cec58"/>
<ellipse class="d" cx="111.10" cy="82.26" rx="2.3" ry="2.5" fill="#6cec58"/>
<ellipse class="d" cx="115.48" cy="82.26" rx="2.3" ry="2.5" fill="#6cec58"/>
<ellipse class="d" cx="119.86" cy="82.26" rx="2.3" ry="2.5" fill="#6cec58"/>
<ellipse class="d" cx="124.24" cy="82.26" rx="2.3" ry="2.5" fill="#6cec58"/>
<ellipse class="d" cx="128.62" cy="82.26" rx="2.3" ry="2.5" fill="#6cec58"/>
<ellipse class="d" cx="133.00" cy="82.26" rx="2.3" ry="2.5" fill="#6cec58"/>
<ellipse class="d" cx="137.38" cy="82.26" rx="2.3" ry="2.5" fill="#2dd7e1"/>
<ellipse class="d" cx="141.76" cy="82.26" rx="2.3" ry="2.5" fill="#2d9fe5"/>
<ellipse class="d" cx="146.14" cy="82.26" rx="2.3" ry="2.5" fill="#223ce7"/>
<ellipse class="d" cx="150.52" cy="82.26" rx="2.3" ry="2.5" fill="#223ce7"/>
<ellipse class="d" cx="159.28" cy="82.26" rx="2.3" ry="2.5" fill="#223ce7"/>
<ellipse class="d" cx="80.44" cy="87.60" rx="2.3" ry="2.5" fill="#76ed4b"/>
<ellipse class="d" cx="84.82" cy="87.60" rx="2.3" ry="2.5" fill="#76ed4b"/>
<ellipse class="d" cx="89.20" cy="87.60" rx="2.3" ry="2.5" fill="#6cec58"/>
<ellipse class="d" cx="93.58" cy="87.60" rx="2.3" ry="2.5" fill="#6cec58"/>
<ellipse class="d" cx="106.72" cy="87.60" rx="2.3" ry="2.5" fill="#6cec58"/>
<ellipse class="d" cx="111.10" cy="87.60" rx="2.3" ry="2.5" fill="#6cec58"/>
<ellipse class="d" cx="115.48" cy="87.60" rx="2.3" ry="2.5" fill="#6cec58"/>
<ellipse class="d" cx="119.86" cy="87.60" rx="2.3" ry="2.5" fill="#6cec58"/>
<ellipse class="d" cx="137.38" cy="87.60" rx="2.3" ry="2.5" fill="#2dd7e1"/>
<ellipse class="d" cx="141.76" cy="87.60" rx="2.3" ry="2.5" fill="#2d9fe5"/>
<ellipse class="d" cx="146.14" cy="87.60" rx="2.3" ry="2.5" fill="#223ce7"/>
<ellipse class="d" cx="150.52" cy="87.60" rx="2.3" ry="2.5" fill="#223ce7"/>
<ellipse class="d" cx="154.90" cy="87.60" rx="2.3" ry="2.5" fill="#2a70e6"/>
<ellipse class="d" cx="80.44" cy="92.94" rx="2.3" ry="2.5" fill="#76ed4b"/>
<ellipse class="d" cx="84.82" cy="92.94" rx="2.3" ry="2.5" fill="#96e42d"/>
<ellipse class="d" cx="89.20" cy="92.94" rx="2.3" ry="2.5" fill="#6cec58"/>
<ellipse class="d" cx="97.96" cy="92.94" rx="2.3" ry="2.5" fill="#6cec58"/>
<ellipse class="d" cx="102.34" cy="92.94" rx="2.3" ry="2.5" fill="#6cec58"/>
<ellipse class="d" cx="106.72" cy="92.94" rx="2.3" ry="2.5" fill="#6cec58"/>
<ellipse class="d" cx="115.48" cy="92.94" rx="2.3" ry="2.5" fill="#76ed4b"/>
<ellipse class="d" cx="119.86" cy="92.94" rx="2.3" ry="2.5" fill="#6cec58"/>
<ellipse class="d" cx="124.24" cy="92.94" rx="2.3" ry="2.5" fill="#6cec58"/>
<ellipse class="d" cx="128.62" cy="92.94" rx="2.3" ry="2.5" fill="#6cec58"/>
<ellipse class="d" cx="137.38" cy="92.94" rx="2.3" ry="2.5" fill="#2dd7e1"/>
<ellipse class="d" cx="141.76" cy="92.94" rx="2.3" ry="2.5" fill="#2d9fe5"/>
<ellipse class="d" cx="146.14" cy="92.94" rx="2.3" ry="2.5" fill="#223ce7"/>
<ellipse class="d" cx="150.52" cy="92.94" rx="2.3" ry="2.5" fill="#223ce7"/>
<ellipse class="d" cx="154.90" cy="92.94" rx="2.3" ry="2.5" fill="#223ce7"/>
<ellipse class="d" cx="84.82" cy="98.28" rx="2.3" ry="2.5" fill="#96e42d"/>
<ellipse class="d" cx="89.20" cy="98.28" rx="2.3" ry="2.5" fill="#76ed4b"/>
<ellipse class="d" cx="93.58" cy="98.28" rx="2.3" ry="2.5" fill="#96e42d"/>
<ellipse class="d" cx="102.34" cy="98.28" rx="2.3" ry="2.5" fill="#76ed4b"/>
<ellipse class="d" cx="124.24" cy="98.28" rx="2.3" ry="2.5" fill="#76ed4b"/>
<ellipse class="d" cx="128.62" cy="98.28" rx="2.3" ry="2.5" fill="#6cec58"/>
<ellipse class="d" cx="133.00" cy="98.28" rx="2.3" ry="2.5" fill="#6cec58"/>
<ellipse class="d" cx="137.38" cy="98.28" rx="2.3" ry="2.5" fill="#2dd7e1"/>
<ellipse class="d" cx="141.76" cy="98.28" rx="2.3" ry="2.5" fill="#2d9fe5"/>
<ellipse class="d" cx="146.14" cy="98.28" rx="2.3" ry="2.5" fill="#223ce7"/>
<ellipse class="d" cx="150.52" cy="98.28" rx="2.3" ry="2.5" fill="#223ce7"/>
<ellipse class="d" cx="154.90" cy="98.28" rx="2.3" ry="2.5" fill="#223ce7"/>
<ellipse class="d" cx="80.44" cy="103.62" rx="2.3" ry="2.5" fill="#76ed4b"/>
<ellipse class="d" cx="89.20" cy="103.62" rx="2.3" ry="2.5" fill="#96e42d"/>
<ellipse class="d" cx="93.58" cy="103.62" rx="2.3" ry="2.5" fill="#c3e123"/>
<ellipse class="d" cx="97.96" cy="103.62" rx="2.3" ry="2.5" fill="#96e42d"/>
<ellipse class="d" cx="102.34" cy="103.62" rx="2.3" ry="2.5" fill="#76ed4b"/>
<ellipse class="d" cx="119.86" cy="103.62" rx="2.3" ry="2.5" fill="#96e42d"/>
<ellipse class="d" cx="137.38" cy="103.62" rx="2.3" ry="2.5" fill="#2dd7e1"/>
<ellipse class="d" cx="141.76" cy="103.62" rx="2.3" ry="2.5" fill="#2a70e6"/>
<ellipse class="d" cx="146.14" cy="103.62" rx="2.3" ry="2.5" fill="#223ce7"/>
<ellipse class="d" cx="80.44" cy="108.96" rx="2.3" ry="2.5" fill="#76ed4b"/>
<ellipse class="d" cx="84.82" cy="108.96" rx="2.3" ry="2.5" fill="#96e42d"/>
<ellipse class="d" cx="93.58" cy="108.96" rx="2.3" ry="2.5" fill="#f48714"/>
<ellipse class="d" cx="97.96" cy="108.96" rx="2.3" ry="2.5" fill="#c3e123"/>
<ellipse class="d" cx="102.34" cy="108.96" rx="2.3" ry="2.5" fill="#96e42d"/>
<ellipse class="d" cx="106.72" cy="108.96" rx="2.3" ry="2.5" fill="#76ed4b"/>
<ellipse class="d" cx="111.10" cy="108.96" rx="2.3" ry="2.5" fill="#76ed4b"/>
<ellipse class="d" cx="115.48" cy="108.96" rx="2.3" ry="2.5" fill="#76ed4b"/>
<ellipse class="d" cx="133.00" cy="108.96" rx="2.3" ry="2.5" fill="#2dd7e1"/>
<ellipse class="d" cx="137.38" cy="108.96" rx="2.3" ry="2.5" fill="#2a70e6"/>
<ellipse class="d" cx="141.76" cy="108.96" rx="2.3" ry="2.5" fill="#223ce7"/>
<ellipse class="d" cx="54.16" cy="114.30" rx="2.3" ry="2.5" fill="#3ce0aa"/>
<ellipse class="d" cx="58.54" cy="114.30" rx="2.3" ry="2.5" fill="#3ce0aa"/>
<ellipse class="d" cx="80.44" cy="114.30" rx="2.3" ry="2.5" fill="#96e42d"/>
<ellipse class="d" cx="84.82" cy="114.30" rx="2.3" ry="2.5" fill="#c3e123"/>
<ellipse class="d" cx="89.20" cy="114.30" rx="2.3" ry="2.5" fill="#f0d719"/>
<ellipse class="d" cx="93.58" cy="114.30" rx="2.3" ry="2.5" fill="#f05a14"/>
<ellipse class="d" cx="102.34" cy="114.30" rx="2.3" ry="2.5" fill="#f0d719"/>
<ellipse class="d" cx="106.72" cy="114.30" rx="2.3" ry="2.5" fill="#96e42d"/>
<ellipse class="d" cx="111.10" cy="114.30" rx="2.3" ry="2.5" fill="#76ed4b"/>
<ellipse class="d" cx="128.62" cy="114.30" rx="2.3" ry="2.5" fill="#3ce0aa"/>
<ellipse class="d" cx="133.00" cy="114.30" rx="2.3" ry="2.5" fill="#2d9fe5"/>
<ellipse class="d" cx="137.38" cy="114.30" rx="2.3" ry="2.5" fill="#2a70e6"/>
<ellipse class="d" cx="80.44" cy="119.64" rx="2.3" ry="2.5" fill="#96e42d"/>
<ellipse class="d" cx="93.58" cy="119.64" rx="2.3" ry="2.5" fill="#f05a14"/>
<ellipse class="d" cx="97.96" cy="119.64" rx="2.3" ry="2.5" fill="#f05a14"/>
<ellipse class="d" cx="106.72" cy="119.64" rx="2.3" ry="2.5" fill="#f48714"/>
<ellipse class="d" cx="111.10" cy="119.64" rx="2.3" ry="2.5" fill="#f0d719"/>
<ellipse class="d" cx="119.86" cy="119.64" rx="2.3" ry="2.5" fill="#6cec58"/>
<ellipse class="d" cx="124.24" cy="119.64" rx="2.3" ry="2.5" fill="#3ce0aa"/>
<ellipse class="d" cx="128.62" cy="119.64" rx="2.3" ry="2.5" fill="#2a70e6"/>
<ellipse class="d" cx="133.00" cy="119.64" rx="2.3" ry="2.5" fill="#223ce7"/>
<ellipse class="d" cx="137.38" cy="119.64" rx="2.3" ry="2.5" fill="#223ce7"/>
<ellipse class="d" cx="80.44" cy="124.98" rx="2.3" ry="2.5" fill="#96e42d"/>
<ellipse class="d" cx="84.82" cy="124.98" rx="2.3" ry="2.5" fill="#f0d719"/>
<ellipse class="d" cx="89.20" cy="124.98" rx="2.3" ry="2.5" fill="#f05a14"/>
<ellipse class="d" cx="93.58" cy="124.98" rx="2.3" ry="2.5" fill="#f52d14"/>
<ellipse class="d" cx="97.96" cy="124.98" rx="2.3" ry="2.5" fill="#f52d14"/>
<ellipse class="d" cx="106.72" cy="124.98" rx="2.3" ry="2.5" fill="#f05a14"/>
<ellipse class="d" cx="115.48" cy="124.98" rx="2.3" ry="2.5" fill="#76ed4b"/>
<ellipse class="d" cx="124.24" cy="124.98" rx="2.3" ry="2.5" fill="#223ce7"/>
<ellipse class="d" cx="128.62" cy="124.98" rx="2.3" ry="2.5" fill="#223ce7"/>
<ellipse class="d" cx="133.00" cy="124.98" rx="2.3" ry="2.5" fill="#223ce7"/>
<ellipse class="d" cx="54.16" cy="130.32" rx="2.3" ry="2.5" fill="#6cec58"/>
<ellipse class="d" cx="58.54" cy="130.32" rx="2.3" ry="2.5" fill="#6cec58"/>
<ellipse class="d" cx="62.92" cy="130.32" rx="2.3" ry="2.5" fill="#6cec58"/>
<ellipse class="d" cx="67.30" cy="130.32" rx="2.3" ry="2.5" fill="#6cec58"/>
<ellipse class="d" cx="76.06" cy="130.32" rx="2.3" ry="2.5" fill="#6cec58"/>
<ellipse class="d" cx="80.44" cy="130.32" rx="2.3" ry="2.5" fill="#96e42d"/>
<ellipse class="d" cx="84.82" cy="130.32" rx="2.3" ry="2.5" fill="#f48714"/>
<ellipse class="d" cx="93.58" cy="130.32" rx="2.3" ry="2.5" fill="#f52d14"/>
<ellipse class="d" cx="97.96" cy="130.32" rx="2.3" ry="2.5" fill="#f52d14"/>
<ellipse class="d" cx="102.34" cy="130.32" rx="2.3" ry="2.5" fill="#f52d14"/>
<ellipse class="d" cx="119.86" cy="130.32" rx="2.3" ry="2.5" fill="#223ce7"/>
<ellipse class="d" cx="124.24" cy="130.32" rx="2.3" ry="2.5" fill="#223ce7"/>
<ellipse class="d" cx="128.62" cy="130.32" rx="2.3" ry="2.5" fill="#223ce7"/>
<ellipse class="d" cx="133.00" cy="130.32" rx="2.3" ry="2.5" fill="#223ce7"/>
<ellipse class="d" cx="58.54" cy="135.66" rx="2.3" ry="2.5" fill="#6cec58"/>
<ellipse class="d" cx="62.92" cy="135.66" rx="2.3" ry="2.5" fill="#6cec58"/>
<ellipse class="d" cx="67.30" cy="135.66" rx="2.3" ry="2.5" fill="#6cec58"/>
<ellipse class="d" cx="71.68" cy="135.66" rx="2.3" ry="2.5" fill="#76ed4b"/>
<ellipse class="d" cx="76.06" cy="135.66" rx="2.3" ry="2.5" fill="#76ed4b"/>
<ellipse class="d" cx="80.44" cy="135.66" rx="2.3" ry="2.5" fill="#f0d719"/>
<ellipse class="d" cx="84.82" cy="135.66" rx="2.3" ry="2.5" fill="#f48714"/>
<ellipse class="d" cx="102.34" cy="135.66" rx="2.3" ry="2.5" fill="#f52d14"/>
<ellipse class="d" cx="111.10" cy="135.66" rx="2.3" ry="2.5" fill="#96e42d"/>
<ellipse class="d" cx="115.48" cy="135.66" rx="2.3" ry="2.5" fill="#2d9fe5"/>
<ellipse class="d" cx="119.86" cy="135.66" rx="2.3" ry="2.5" fill="#223ce7"/>
<ellipse class="d" cx="124.24" cy="135.66" rx="2.3" ry="2.5" fill="#223ce7"/>
<ellipse class="d" cx="128.62" cy="135.66" rx="2.3" ry="2.5" fill="#223ce7"/>
<ellipse class="d" cx="49.78" cy="141.00" rx="2.3" ry="2.5" fill="#6cec58"/>
<ellipse class="d" cx="54.16" cy="141.00" rx="2.3" ry="2.5" fill="#6cec58"/>
<ellipse class="d" cx="58.54" cy="141.00" rx="2.3" ry="2.5" fill="#6cec58"/>
<ellipse class="d" cx="62.92" cy="141.00" rx="2.3" ry="2.5" fill="#6cec58"/>
<ellipse class="d" cx="67.30" cy="141.00" rx="2.3" ry="2.5" fill="#6cec58"/>
<ellipse class="d" cx="71.68" cy="141.00" rx="2.3" ry="2.5" fill="#76ed4b"/>
<ellipse class="d" cx="76.06" cy="141.00" rx="2.3" ry="2.5" fill="#96e42d"/>
<ellipse class="d" cx="80.44" cy="141.00" rx="2.3" ry="2.5" fill="#f0d719"/>
<ellipse class="d" cx="84.82" cy="141.00" rx="2.3" ry="2.5" fill="#f05a14"/>
<ellipse class="d" cx="106.72" cy="141.00" rx="2.3" ry="2.5" fill="#f48714"/>
<ellipse class="d" cx="111.10" cy="141.00" rx="2.3" ry="2.5" fill="#76ed4b"/>
<ellipse class="d" cx="115.48" cy="141.00" rx="2.3" ry="2.5" fill="#2d9fe5"/>
<ellipse class="d" cx="119.86" cy="141.00" rx="2.3" ry="2.5" fill="#2a70e6"/>
<ellipse class="d" cx="124.24" cy="141.00" rx="2.3" ry="2.5" fill="#223ce7"/>
<ellipse class="d" cx="128.62" cy="141.00" rx="2.3" ry="2.5" fill="#223ce7"/>
<ellipse class="d" cx="23.50" cy="146.34" rx="2.3" ry="2.5" fill="#2dd7e1"/>
<ellipse class="d" cx="27.88" cy="146.34" rx="2.3" ry="2.5" fill="#3ce0aa"/>
<ellipse class="d" cx="32.26" cy="146.34" rx="2.3" ry="2.5" fill="#3ce0aa"/>
<ellipse class="d" cx="36.64" cy="146.34" rx="2.3" ry="2.5" fill="#3ce0aa"/>
<ellipse class="d" cx="49.78" cy="146.34" rx="2.3" ry="2.5" fill="#6cec58"/>
<ellipse class="d" cx="54.16" cy="146.34" rx="2.3" ry="2.5" fill="#6cec58"/>
<ellipse class="d" cx="58.54" cy="146.34" rx="2.3" ry="2.5" fill="#6cec58"/>
<ellipse class="d" cx="62.92" cy="146.34" rx="2.3" ry="2.5" fill="#6cec58"/>
<ellipse class="d" cx="76.06" cy="146.34" rx="2.3" ry="2.5" fill="#f0d719"/>
<ellipse class="d" cx="102.34" cy="146.34" rx="2.3" ry="2.5" fill="#f48714"/>
<ellipse class="d" cx="106.72" cy="146.34" rx="2.3" ry="2.5" fill="#96e42d"/>
<ellipse class="d" cx="111.10" cy="146.34" rx="2.3" ry="2.5" fill="#3ce0aa"/>
<ellipse class="d" cx="115.48" cy="146.34" rx="2.3" ry="2.5" fill="#2d9fe5"/>
<ellipse class="d" cx="119.86" cy="146.34" rx="2.3" ry="2.5" fill="#2a70e6"/>
<ellipse class="d" cx="124.24" cy="146.34" rx="2.3" ry="2.5" fill="#223ce7"/>
<ellipse class="d" cx="23.50" cy="151.68" rx="2.3" ry="2.5" fill="#3ce0aa"/>
<ellipse class="d" cx="27.88" cy="151.68" rx="2.3" ry="2.5" fill="#3ce0aa"/>
<ellipse class="d" cx="32.26" cy="151.68" rx="2.3" ry="2.5" fill="#3ce0aa"/>
<ellipse class="d" cx="41.02" cy="151.68" rx="2.3" ry="2.5" fill="#6cec58"/>
<ellipse class="d" cx="45.40" cy="151.68" rx="2.3" ry="2.5" fill="#6cec58"/>
<ellipse class="d" cx="62.92" cy="151.68" rx="2.3" ry="2.5" fill="#6cec58"/>
<ellipse class="d" cx="67.30" cy="151.68" rx="2.3" ry="2.5" fill="#76ed4b"/>
<ellipse class="d" cx="71.68" cy="151.68" rx="2.3" ry="2.5" fill="#96e42d"/>
<ellipse class="d" cx="89.20" cy="151.68" rx="2.3" ry="2.5" fill="#f05a14"/>
<ellipse class="d" cx="93.58" cy="151.68" rx="2.3" ry="2.5" fill="#f05a14"/>
<ellipse class="d" cx="97.96" cy="151.68" rx="2.3" ry="2.5" fill="#f48714"/>
<ellipse class="d" cx="102.34" cy="151.68" rx="2.3" ry="2.5" fill="#f0d719"/>
<ellipse class="d" cx="106.72" cy="151.68" rx="2.3" ry="2.5" fill="#6cec58"/>
<ellipse class="d" cx="111.10" cy="151.68" rx="2.3" ry="2.5" fill="#3ce0aa"/>
<ellipse class="d" cx="115.48" cy="151.68" rx="2.3" ry="2.5" fill="#2d9fe5"/>
<ellipse class="d" cx="119.86" cy="151.68" rx="2.3" ry="2.5" fill="#2a70e6"/>
<ellipse class="d" cx="124.24" cy="151.68" rx="2.3" ry="2.5" fill="#223ce7"/>
<ellipse class="d" cx="23.50" cy="157.02" rx="2.3" ry="2.5" fill="#6cec58"/>
<ellipse class="d" cx="27.88" cy="157.02" rx="2.3" ry="2.5" fill="#6cec58"/>
<ellipse class="d" cx="41.02" cy="157.02" rx="2.3" ry="2.5" fill="#6cec58"/>
<ellipse class="d" cx="45.40" cy="157.02" rx="2.3" ry="2.5" fill="#6cec58"/>
<ellipse class="d" cx="49.78" cy="157.02" rx="2.3" ry="2.5" fill="#6cec58"/>
<ellipse class="d" cx="54.16" cy="157.02" rx="2.3" ry="2.5" fill="#6cec58"/>
<ellipse class="d" cx="58.54" cy="157.02" rx="2.3" ry="2.5" fill="#6cec58"/>
<ellipse class="d" cx="62.92" cy="157.02" rx="2.3" ry="2.5" fill="#6cec58"/>
<ellipse class="d" cx="67.30" cy="157.02" rx="2.3" ry="2.5" fill="#6cec58"/>
<ellipse class="d" cx="71.68" cy="157.02" rx="2.3" ry="2.5" fill="#76ed4b"/>
<ellipse class="d" cx="80.44" cy="157.02" rx="2.3" ry="2.5" fill="#f0d719"/>
<ellipse class="d" cx="84.82" cy="157.02" rx="2.3" ry="2.5" fill="#f48714"/>
<ellipse class="d" cx="89.20" cy="157.02" rx="2.3" ry="2.5" fill="#f48714"/>
<ellipse class="d" cx="93.58" cy="157.02" rx="2.3" ry="2.5" fill="#f48714"/>
<ellipse class="d" cx="97.96" cy="157.02" rx="2.3" ry="2.5" fill="#f0d719"/>
<ellipse class="d" cx="102.34" cy="157.02" rx="2.3" ry="2.5" fill="#96e42d"/>
<ellipse class="d" cx="106.72" cy="157.02" rx="2.3" ry="2.5" fill="#6cec58"/>
<ellipse class="d" cx="111.10" cy="157.02" rx="2.3" ry="2.5" fill="#3ce0aa"/>
<ellipse class="d" cx="115.48" cy="157.02" rx="2.3" ry="2.5" fill="#2d9fe5"/>
<ellipse class="d" cx="119.86" cy="157.02" rx="2.3" ry="2.5" fill="#2a70e6"/>
<ellipse class="d" cx="124.24" cy="157.02" rx="2.3" ry="2.5" fill="#2a70e6"/>
<ellipse class="d" cx="49.78" cy="162.36" rx="2.3" ry="2.5" fill="#6cec58"/>
<ellipse class="d" cx="58.54" cy="162.36" rx="2.3" ry="2.5" fill="#6cec58"/>
<ellipse class="d" cx="62.92" cy="162.36" rx="2.3" ry="2.5" fill="#76ed4b"/>
<ellipse class="d" cx="67.30" cy="162.36" rx="2.3" ry="2.5" fill="#76ed4b"/>
<ellipse class="d" cx="71.68" cy="162.36" rx="2.3" ry="2.5" fill="#76ed4b"/>
<ellipse class="d" cx="76.06" cy="162.36" rx="2.3" ry="2.5" fill="#96e42d"/>
<ellipse class="d" cx="80.44" cy="162.36" rx="2.3" ry="2.5" fill="#96e42d"/>
<ellipse class="d" cx="84.82" cy="162.36" rx="2.3" ry="2.5" fill="#c3e123"/>
<ellipse class="d" cx="89.20" cy="162.36" rx="2.3" ry="2.5" fill="#96e42d"/>
<ellipse class="d" cx="93.58" cy="162.36" rx="2.3" ry="2.5" fill="#c3e123"/>
<ellipse class="d" cx="97.96" cy="162.36" rx="2.3" ry="2.5" fill="#76ed4b"/>
<ellipse class="d" cx="102.34" cy="162.36" rx="2.3" ry="2.5" fill="#6cec58"/>
<ellipse class="d" cx="106.72" cy="162.36" rx="2.3" ry="2.5" fill="#6cec58"/>
<ellipse class="d" cx="111.10" cy="162.36" rx="2.3" ry="2.5" fill="#3ce0aa"/>
<ellipse class="d" cx="115.48" cy="162.36" rx="2.3" ry="2.5" fill="#2dd7e1"/>
<ellipse class="d" cx="119.86" cy="162.36" rx="2.3" ry="2.5" fill="#2d9fe5"/>
<ellipse class="d" cx="36.64" cy="167.70" rx="2.3" ry="2.5" fill="#6cec58"/>
<ellipse class="d" cx="41.02" cy="167.70" rx="2.3" ry="2.5" fill="#6cec58"/>
<ellipse class="d" cx="45.40" cy="167.70" rx="2.3" ry="2.5" fill="#6cec58"/>
<ellipse class="d" cx="49.78" cy="167.70" rx="2.3" ry="2.5" fill="#6cec58"/>
<ellipse class="d" cx="54.16" cy="167.70" rx="2.3" ry="2.5" fill="#6cec58"/>
<ellipse class="d" cx="58.54" cy="167.70" rx="2.3" ry="2.5" fill="#6cec58"/>
<ellipse class="d" cx="62.92" cy="167.70" rx="2.3" ry="2.5" fill="#6cec58"/>
<ellipse class="d" cx="67.30" cy="167.70" rx="2.3" ry="2.5" fill="#6cec58"/>
<ellipse class="d" cx="71.68" cy="167.70" rx="2.3" ry="2.5" fill="#76ed4b"/>
<ellipse class="d" cx="76.06" cy="167.70" rx="2.3" ry="2.5" fill="#96e42d"/>
<ellipse class="d" cx="80.44" cy="167.70" rx="2.3" ry="2.5" fill="#76ed4b"/>
<ellipse class="d" cx="84.82" cy="167.70" rx="2.3" ry="2.5" fill="#96e42d"/>
<ellipse class="d" cx="89.20" cy="167.70" rx="2.3" ry="2.5" fill="#76ed4b"/>
<ellipse class="d" cx="93.58" cy="167.70" rx="2.3" ry="2.5" fill="#76ed4b"/>
<ellipse class="d" cx="97.96" cy="167.70" rx="2.3" ry="2.5" fill="#6cec58"/>
<ellipse class="d" cx="102.34" cy="167.70" rx="2.3" ry="2.5" fill="#6cec58"/>
<ellipse class="d" cx="106.72" cy="167.70" rx="2.3" ry="2.5" fill="#3ce0aa"/>
<ellipse class="d" cx="111.10" cy="167.70" rx="2.3" ry="2.5" fill="#2dd7e1"/>
<ellipse class="d" cx="115.48" cy="167.70" rx="2.3" ry="2.5" fill="#2d9fe5"/>
<ellipse class="d" cx="119.86" cy="167.70" rx="2.3" ry="2.5" fill="#2d9fe5"/>
<ellipse class="d" cx="41.02" cy="173.04" rx="2.3" ry="2.5" fill="#6cec58"/>
<ellipse class="d" cx="45.40" cy="173.04" rx="2.3" ry="2.5" fill="#6cec58"/>
<ellipse class="d" cx="54.16" cy="173.04" rx="2.3" ry="2.5" fill="#6cec58"/>
<ellipse class="d" cx="58.54" cy="173.04" rx="2.3" ry="2.5" fill="#6cec58"/>
<ellipse class="d" cx="62.92" cy="173.04" rx="2.3" ry="2.5" fill="#6cec58"/>
<ellipse class="d" cx="67.30" cy="173.04" rx="2.3" ry="2.5" fill="#6cec58"/>
<ellipse class="d" cx="71.68" cy="173.04" rx="2.3" ry="2.5" fill="#6cec58"/>
<ellipse class="d" cx="76.06" cy="173.04" rx="2.3" ry="2.5" fill="#6cec58"/>
<ellipse class="d" cx="80.44" cy="173.04" rx="2.3" ry="2.5" fill="#6cec58"/>
<ellipse class="d" cx="84.82" cy="173.04" rx="2.3" ry="2.5" fill="#6cec58"/>
<ellipse class="d" cx="89.20" cy="173.04" rx="2.3" ry="2.5" fill="#6cec58"/>
<ellipse class="d" cx="93.58" cy="173.04" rx="2.3" ry="2.5" fill="#6cec58"/>
<ellipse class="d" cx="97.96" cy="173.04" rx="2.3" ry="2.5" fill="#3ce0aa"/>
<ellipse class="d" cx="102.34" cy="173.04" rx="2.3" ry="2.5" fill="#2dd7e1"/>
<ellipse class="d" cx="106.72" cy="173.04" rx="2.3" ry="2.5" fill="#2d9fe5"/>
<ellipse class="d" cx="111.10" cy="173.04" rx="2.3" ry="2.5" fill="#2a70e6"/>
<ellipse class="d" cx="45.40" cy="178.38" rx="2.3" ry="2.5" fill="#76ed4b"/>
<ellipse class="d" cx="49.78" cy="178.38" rx="2.3" ry="2.5" fill="#6cec58"/>
<ellipse class="d" cx="62.92" cy="178.38" rx="2.3" ry="2.5" fill="#6cec58"/>
<ellipse class="d" cx="67.30" cy="178.38" rx="2.3" ry="2.5" fill="#6cec58"/>
<ellipse class="d" cx="71.68" cy="178.38" rx="2.3" ry="2.5" fill="#76ed4b"/>
<ellipse class="d" cx="76.06" cy="178.38" rx="2.3" ry="2.5" fill="#76ed4b"/>
<ellipse class="d" cx="80.44" cy="178.38" rx="2.3" ry="2.5" fill="#6cec58"/>
<ellipse class="d" cx="84.82" cy="178.38" rx="2.3" ry="2.5" fill="#6cec58"/>
<ellipse class="d" cx="89.20" cy="178.38" rx="2.3" ry="2.5" fill="#6cec58"/>
<ellipse class="d" cx="93.58" cy="178.38" rx="2.3" ry="2.5" fill="#3ce0aa"/>
<ellipse class="d" cx="97.96" cy="178.38" rx="2.3" ry="2.5" fill="#2dd7e1"/>
<ellipse class="d" cx="102.34" cy="178.38" rx="2.3" ry="2.5" fill="#2d9fe5"/>
<ellipse class="d" cx="106.72" cy="178.38" rx="2.3" ry="2.5" fill="#2a70e6"/>
<ellipse class="d" cx="111.10" cy="178.38" rx="2.3" ry="2.5" fill="#2a70e6"/>
<ellipse class="d" cx="45.40" cy="183.72" rx="2.3" ry="2.5" fill="#76ed4b"/>
<ellipse class="d" cx="80.44" cy="183.72" rx="2.3" ry="2.5" fill="#3ce0aa"/>
<rect x="0.75" y="0.75" width="194.5" height="237.6" class="fr"/>
</g>
<rect x="234.00" y="279.80" width="11.10" height="236.90" fill="url(#jet)" class="cb"/>
<line x1="243.10" y1="516.70" x2="245.10" y2="516.70" class="tk"/>
<text x="249.40" y="521.00" class="tl">0</text>
<line x1="243.10" y1="489.63" x2="245.10" y2="489.63" class="tk"/>
<text x="249.40" y="493.93" class="tl">4</text>
<line x1="243.10" y1="462.55" x2="245.10" y2="462.55" class="tk"/>
<text x="249.40" y="466.85" class="tl">8</text>
<line x1="243.10" y1="435.48" x2="245.10" y2="435.48" class="tk"/>
<text x="249.40" y="439.78" class="tl">12</text>
<line x1="243.10" y1="408.40" x2="245.10" y2="408.40" class="tk"/>
<text x="249.40" y="412.70" class="tl">16</text>
<line x1="243.10" y1="381.33" x2="245.10" y2="381.33" class="tk"/>
<text x="249.40" y="385.63" class="tl">20</text>
<line x1="243.10" y1="354.25" x2="245.10" y2="354.25" class="tk"/>
<text x="249.40" y="358.55" class="tl">24</text>
<line x1="243.10" y1="327.18" x2="245.10" y2="327.18" class="tk"/>
<text x="249.40" y="331.48" class="tl">28</text>
<line x1="243.10" y1="300.11" x2="245.10" y2="300.11" class="tk"/>
<text x="249.40" y="304.41" class="tl">32</text>
<text x="4.30" y="291.30" class="pl">(c)</text>
<text x="24.50" y="474.04" class="al" text-anchor="end">35°N</text>
<text x="173.28" y="529.50" class="al" text-anchor="middle">118°W</text>
<g transform="translate(309.10 279.50) scale(0.9954 0.9929)">
<svg x="0" y="0" width="196.0" height="239.1" viewBox="0 0 196.0 239.1" overflow="hidden"><use href="#terrain"/></svg>
<line x1="144.1" y1="0" x2="144.1" y2="239.1" class="gl"/>
<line x1="0" y1="192.0" x2="196.0" y2="192.0" class="gl"/>
<ellipse class="d" cx="106.72" cy="34.20" rx="2.3" ry="2.5" fill="#76ed4b"/>
<ellipse class="d" cx="106.72" cy="39.54" rx="2.3" ry="2.5" fill="#76ed4b"/>
<ellipse class="d" cx="111.10" cy="39.54" rx="2.3" ry="2.5" fill="#6cec58"/>
<ellipse class="d" cx="115.48" cy="39.54" rx="2.3" ry="2.5" fill="#6cec58"/>
<ellipse class="d" cx="119.86" cy="39.54" rx="2.3" ry="2.5" fill="#6cec58"/>
<ellipse class="d" cx="124.24" cy="39.54" rx="2.3" ry="2.5" fill="#6cec58"/>
<ellipse class="d" cx="128.62" cy="39.54" rx="2.3" ry="2.5" fill="#6cec58"/>
<ellipse class="d" cx="106.72" cy="44.88" rx="2.3" ry="2.5" fill="#6cec58"/>
<ellipse class="d" cx="111.10" cy="44.88" rx="2.3" ry="2.5" fill="#6cec58"/>
<ellipse class="d" cx="115.48" cy="44.88" rx="2.3" ry="2.5" fill="#6cec58"/>
<ellipse class="d" cx="119.86" cy="44.88" rx="2.3" ry="2.5" fill="#6cec58"/>
<ellipse class="d" cx="124.24" cy="44.88" rx="2.3" ry="2.5" fill="#6cec58"/>
<ellipse class="d" cx="128.62" cy="44.88" rx="2.3" ry="2.5" fill="#6cec58"/>
<ellipse class="d" cx="133.00" cy="44.88" rx="2.3" ry="2.5" fill="#6cec58"/>
<ellipse class="d" cx="137.38" cy="44.88" rx="2.3" ry="2.5" fill="#6cec58"/>
<ellipse class="d" cx="111.10" cy="50.22" rx="2.3" ry="2.5" fill="#6cec58"/>
<ellipse class="d" cx="115.48" cy="50.22" rx="2.3" ry="2.5" fill="#6cec58"/>
<ellipse class="d" cx="119.86" cy="50.22" rx="2.3" ry="2.5" fill="#6cec58"/>
<ellipse class="d" cx="124.24" cy="50.22" rx="2.3" ry="2.5" fill="#6cec58"/>
<ellipse class="d" cx="128.62" cy="50.22" rx="2.3" ry="2.5" fill="#6cec58"/>
<ellipse class="d" cx="133.00" cy="50.22" rx="2.3" ry="2.5" fill="#6cec58"/>
<ellipse class="d" cx="137.38" cy="50.22" rx="2.3" ry="2.5" fill="#6cec58"/>
<ellipse class="d" cx="141.76" cy="50.22" rx="2.3" ry="2.5" fill="#6cec58"/>
<ellipse class="d" cx="146.14" cy="50.22" rx="2.3" ry="2.5" fill="#6cec58"/>
<ellipse class="d" cx="80.44" cy="55.56" rx="2.3" ry="2.5" fill="#6cec58"/>
<ellipse class="d" cx="84.82" cy="55.56" rx="2.3" ry="2.5" fill="#6cec58"/>
<ellipse class="d" cx="89.20" cy="55.56" rx="2.3" ry="2.5" fill="#6cec58"/>
<ellipse class="d" cx="97.96" cy="55.56" rx="2.3" ry="2.5" fill="#6cec58"/>
<ellipse class="d" cx="102.34" cy="55.56" rx="2.3" ry="2.5" fill="#6cec58"/>
<ellipse class="d" cx="111.10" cy="55.56" rx="2.3" ry="2.5" fill="#6cec58"/>
<ellipse class="d" cx="115.48" cy="55.56" rx="2.3" ry="2.5" fill="#6cec58"/>
<ellipse class="d" cx="119.86" cy="55.56" rx="2.3" ry="2.5" fill="#6cec58"/>
<ellipse class="d" cx="124.24" cy="55.56" rx="2.3" ry="2.5" fill="#6cec58"/>
<ellipse class="d" cx="128.62" cy="55.56" rx="2.3" ry="2.5" fill="#6cec58"/>
<ellipse class="d" cx="133.00" cy="55.56" rx="2.3" ry="2.5" fill="#6cec58"/>
<ellipse class="d" cx="137.38" cy="55.56" rx="2.3" ry="2.5" fill="#6cec58"/>
<ellipse class="d" cx="141.76" cy="55.56" rx="2.3" ry="2.5" fill="#6cec58"/>
<ellipse class="d" cx="146.14" cy="55.56" rx="2.3" ry="2.5" fill="#6cec58"/>
<ellipse class="d" cx="150.52" cy="55.56" rx="2.3" ry="2.5" fill="#6cec58"/>
<ellipse class="d" cx="84.82" cy="60.90" rx="2.3" ry="2.5" fill="#6cec58"/>
<ellipse class="d" cx="89.20" cy="60.90" rx="2.3" ry="2.5" fill="#6cec58"/>
<ellipse class="d" cx="97.96" cy="60.90" rx="2.3" ry="2.5" fill="#6cec58"/>
<ellipse class="d" cx="102.34" cy="60.90" rx="2.3" ry="2.5" fill="#6cec58"/>
<ellipse class="d" cx="106.72" cy="60.90" rx="2.3" ry="2.5" fill="#6cec58"/>
<ellipse class="d" cx="111.10" cy="60.90" rx="2.3" ry="2.5" fill="#6cec58"/>
<ellipse class="d" cx="115.48" cy="60.90" rx="2.3" ry="2.5" fill="#6cec58"/>
<ellipse class="d" cx="119.86" cy="60.90" rx="2.3" ry="2.5" fill="#6cec58"/>
<ellipse class="d" cx="124.24" cy="60.90" rx="2.3" ry="2.5" fill="#6cec58"/>
<ellipse class="d" cx="128.62" cy="60.90" rx="2.3" ry="2.5" fill="#6cec58"/>
<ellipse class="d" cx="133.00" cy="60.90" rx="2.3" ry="2.5" fill="#6cec58"/>
<ellipse class="d" cx="137.38" cy="60.90" rx="2.3" ry="2.5" fill="#6cec58"/>
<ellipse class="d" cx="141.76" cy="60.90" rx="2.3" ry="2.5" fill="#6cec58"/>
<ellipse class="d" cx="146.14" cy="60.90" rx="2.3" ry="2.5" fill="#6cec58"/>
<ellipse class="d" cx="150.52" cy="60.90" rx="2.3" ry="2.5" fill="#6cec58"/>
<ellipse class="d" cx="84.82" cy="66.24" rx="2.3" ry="2.5" fill="#6cec58"/>
<ellipse class="d" cx="89.20" cy="66.24" rx="2.3" ry="2.5" fill="#6cec58"/>
<ellipse class="d" cx="93.58" cy="66.24" rx="2.3" ry="2.5" fill="#3ce0aa"/>
<ellipse class="d" cx="102.34" cy="66.24" rx="2.3" ry="2.5" fill="#6cec58"/>
<ellipse class="d" cx="111.10" cy="66.24" rx="2.3" ry="2.5" fill="#6cec58"/>
<ellipse class="d" cx="115.48" cy="66.24" rx="2.3" ry="2.5" fill="#6cec58"/>
<ellipse class="d" cx="119.86" cy="66.24" rx="2.3" ry="2.5" fill="#6cec58"/>
<ellipse class="d" cx="124.24" cy="66.24" rx="2.3" ry="2.5" fill="#6cec58"/>
<ellipse class="d" cx="128.62" cy="66.24" rx="2.3" ry="2.5" fill="#6cec58"/>
<ellipse class="d" cx="133.00" cy="66.24" rx="2.3" ry="2.5" fill="#6cec58"/>
<ellipse class="d" cx="137.38" cy="66.24" rx="2.3" ry="2.5" fill="#6cec58"/>
<ellipse class="d" cx="141.76" cy="66.24" rx="2.3" ry="2.5" fill="#6cec58"/>
<ellipse class="d" cx="146.14" cy="66.24" rx="2.3" ry="2.5" fill="#6cec58"/>
<ellipse class="d" cx="150.52" cy="66.24" rx="2.3" ry="2.5" fill="#6cec58"/>
<ellipse class="d" cx="84.82" cy="71.58" rx="2.3" ry="2.5" fill="#6cec58"/>
<ellipse class="d" cx="89.20" cy="71.58" rx="2.3" ry="2.5" fill="#6cec58"/>
<ellipse class="d" cx="93.58" cy="71.58" rx="2.3" ry="2.5" fill="#3ce0aa"/>
<ellipse class="d" cx="97.96" cy="71.58" rx="2.3" ry="2.5" fill="#6cec58"/>
<ellipse class="d" cx="102.34" cy="71.58" rx="2.3" ry="2.5" fill="#6cec58"/>
<ellipse class="d" cx="111.10" cy="71.58" rx="2.3" ry="2.5" fill="#6cec58"/>
<ellipse class="d" cx="115.48" cy="71.58" rx="2.3" ry="2.5" fill="#6cec58"/>
<ellipse class="d" cx="119.86" cy="71.58" rx="2.3" ry="2.5" fill="#6cec58"/>
<ellipse class="d" cx="124.24" cy="71.58" rx="2.3" ry="2.5" fill="#6cec58"/>
<ellipse class="d" cx="128.62" cy="71.58" rx="2.3" ry="2.5" fill="#6cec58"/>
<ellipse class="d" cx="133.00" cy="71.58" rx="2.3" ry="2.5" fill="#6cec58"/>
<ellipse class="d" cx="137.38" cy="71.58" rx="2.3" ry="2.5" fill="#6cec58"/>
<ellipse class="d" cx="141.76" cy="71.58" rx="2.3" ry="2.5" fill="#3ce0aa"/>
<ellipse class="d" cx="146.14" cy="71.58" rx="2.3" ry="2.5" fill="#2dd7e1"/>
<ellipse class="d" cx="150.52" cy="71.58" rx="2.3" ry="2.5" fill="#2dd7e1"/>
<ellipse class="d" cx="154.90" cy="71.58" rx="2.3" ry="2.5" fill="#2dd7e1"/>
<ellipse class="d" cx="80.44" cy="76.92" rx="2.3" ry="2.5" fill="#6cec58"/>
<ellipse class="d" cx="84.82" cy="76.92" rx="2.3" ry="2.5" fill="#6cec58"/>
<ellipse class="d" cx="89.20" cy="76.92" rx="2.3" ry="2.5" fill="#3ce0aa"/>
<ellipse class="d" cx="93.58" cy="76.92" rx="2.3" ry="2.5" fill="#3ce0aa"/>
<ellipse class="d" cx="97.96" cy="76.92" rx="2.3" ry="2.5" fill="#3ce0aa"/>
<ellipse class="d" cx="106.72" cy="76.92" rx="2.3" ry="2.5" fill="#6cec58"/>
<ellipse class="d" cx="111.10" cy="76.92" rx="2.3" ry="2.5" fill="#76ed4b"/>
<ellipse class="d" cx="115.48" cy="76.92" rx="2.3" ry="2.5" fill="#76ed4b"/>
<ellipse class="d" cx="119.86" cy="76.92" rx="2.3" ry="2.5" fill="#6cec58"/>
<ellipse class="d" cx="124.24" cy="76.92" rx="2.3" ry="2.5" fill="#6cec58"/>
<ellipse class="d" cx="128.62" cy="76.92" rx="2.3" ry="2.5" fill="#6cec58"/>
<ellipse class="d" cx="133.00" cy="76.92" rx="2.3" ry="2.5" fill="#6cec58"/>
<ellipse class="d" cx="137.38" cy="76.92" rx="2.3" ry="2.5" fill="#2dd7e1"/>
<ellipse class="d" cx="141.76" cy="76.92" rx="2.3" ry="2.5" fill="#2d9fe5"/>
<ellipse class="d" cx="146.14" cy="76.92" rx="2.3" ry="2.5" fill="#223ce7"/>
<ellipse class="d" cx="150.52" cy="76.92" rx="2.3" ry="2.5" fill="#223ce7"/>
<ellipse class="d" cx="154.90" cy="76.92" rx="2.3" ry="2.5" fill="#223ce7"/>
<ellipse class="d" cx="84.82" cy="82.26" rx="2.3" ry="2.5" fill="#6cec58"/>
<ellipse class="d" cx="89.20" cy="82.26" rx="2.3" ry="2.5" fill="#6cec58"/>
<ellipse class="d" cx="93.58" cy="82.26" rx="2.3" ry="2.5" fill="#3ce0aa"/>
<ellipse class="d" cx="97.96" cy="82.26" rx="2.3" ry="2.5" fill="#6cec58"/>
<ellipse class="d" cx="102.34" cy="82.26" rx="2.3" ry="2.5" fill="#6cec58"/>
<ellipse class="d" cx="106.72" cy="82.26" rx="2.3" ry="2.5" fill="#6cec58"/>
<ellipse class="d" cx="111.10" cy="82.26" rx="2.3" ry="2.5" fill="#6cec58"/>
<ellipse class="d" cx="115.48" cy="82.26" rx="2.3" ry="2.5" fill="#6cec58"/>
<ellipse class="d" cx="119.86" cy="82.26" rx="2.3" ry="2.5" fill="#6cec58"/>
<ellipse class="d" cx="124.24" cy="82.26" rx="2.3" ry="2.5" fill="#6cec58"/>
<ellipse class="d" cx="128.62" cy="82.26" rx="2.3" ry="2.5" fill="#6cec58"/>
<ellipse class="d" cx="133.00" cy="82.26" rx="2.3" ry="2.5" fill="#6cec58"/>
<ellipse class="d" cx="137.38" cy="82.26" rx="2.3" ry="2.5" fill="#2dd7e1"/>
<ellipse class="d" cx="141.76" cy="82.26" rx="2.3" ry="2.5" fill="#2d9fe5"/>
<ellipse class="d" cx="146.14" cy="82.26" rx="2.3" ry="2.5" fill="#223ce7"/>
<ellipse class="d" cx="150.52" cy="82.26" rx="2.3" ry="2.5" fill="#223ce7"/>
<ellipse class="d" cx="159.28" cy="82.26" rx="2.3" ry="2.5" fill="#223ce7"/>
<ellipse class="d" cx="80.44" cy="87.60" rx="2.3" ry="2.5" fill="#76ed4b"/>
<ellipse class="d" cx="84.82" cy="87.60" rx="2.3" ry="2.5" fill="#6cec58"/>
<ellipse class="d" cx="89.20" cy="87.60" rx="2.3" ry="2.5" fill="#3ce0aa"/>
<ellipse class="d" cx="93.58" cy="87.60" rx="2.3" ry="2.5" fill="#2dd7e1"/>
<ellipse class="d" cx="106.72" cy="87.60" rx="2.3" ry="2.5" fill="#6cec58"/>
<ellipse class="d" cx="111.10" cy="87.60" rx="2.3" ry="2.5" fill="#6cec58"/>
<ellipse class="d" cx="115.48" cy="87.60" rx="2.3" ry="2.5" fill="#6cec58"/>
<ellipse class="d" cx="119.86" cy="87.60" rx="2.3" ry="2.5" fill="#6cec58"/>
<ellipse class="d" cx="137.38" cy="87.60" rx="2.3" ry="2.5" fill="#2dd7e1"/>
<ellipse class="d" cx="141.76" cy="87.60" rx="2.3" ry="2.5" fill="#2d9fe5"/>
<ellipse class="d" cx="146.14" cy="87.60" rx="2.3" ry="2.5" fill="#223ce7"/>
<ellipse class="d" cx="150.52" cy="87.60" rx="2.3" ry="2.5" fill="#223ce7"/>
<ellipse class="d" cx="154.90" cy="87.60" rx="2.3" ry="2.5" fill="#223ce7"/>
<ellipse class="d" cx="80.44" cy="92.94" rx="2.3" ry="2.5" fill="#76ed4b"/>
<ellipse class="d" cx="84.82" cy="92.94" rx="2.3" ry="2.5" fill="#76ed4b"/>
<ellipse class="d" cx="89.20" cy="92.94" rx="2.3" ry="2.5" fill="#6cec58"/>
<ellipse class="d" cx="97.96" cy="92.94" rx="2.3" ry="2.5" fill="#2dd7e1"/>
<ellipse class="d" cx="102.34" cy="92.94" rx="2.3" ry="2.5" fill="#3ce0aa"/>
<ellipse class="d" cx="106.72" cy="92.94" rx="2.3" ry="2.5" fill="#6cec58"/>
<ellipse class="d" cx="115.48" cy="92.94" rx="2.3" ry="2.5" fill="#76ed4b"/>
<ellipse class="d" cx="119.86" cy="92.94" rx="2.3" ry="2.5" fill="#6cec58"/>
<ellipse class="d" cx="124.24" cy="92.94" rx="2.3" ry="2.5" fill="#6cec58"/>
<ellipse class="d" cx="128.62" cy="92.94" rx="2.3" ry="2.5" fill="#6cec58"/>
<ellipse class="d" cx="137.38" cy="92.94" rx="2.3" ry="2.5" fill="#3ce0aa"/>
<ellipse class="d" cx="141.76" cy="92.94" rx="2.3" ry="2.5" fill="#2d9fe5"/>
<ellipse class="d" cx="146.14" cy="92.94" rx="2.3" ry="2.5" fill="#223ce7"/>
<ellipse class="d" cx="150.52" cy="92.94" rx="2.3" ry="2.5" fill="#223ce7"/>
<ellipse class="d" cx="154.90" cy="92.94" rx="2.3" ry="2.5" fill="#223ce7"/>
<ellipse class="d" cx="84.82" cy="98.28" rx="2.3" ry="2.5" fill="#76ed4b"/>
<ellipse class="d" cx="89.20" cy="98.28" rx="2.3" ry="2.5" fill="#6cec58"/>
<ellipse class="d" cx="93.58" cy="98.28" rx="2.3" ry="2.5" fill="#3ce0aa"/>
<ellipse class="d" cx="102.34" cy="98.28" rx="2.3" ry="2.5" fill="#3ce0aa"/>
<ellipse class="d" cx="124.24" cy="98.28" rx="2.3" ry="2.5" fill="#76ed4b"/>
<ellipse class="d" cx="128.62" cy="98.28" rx="2.3" ry="2.5" fill="#6cec58"/>
<ellipse class="d" cx="133.00" cy="98.28" rx="2.3" ry="2.5" fill="#6cec58"/>
<ellipse class="d" cx="137.38" cy="98.28" rx="2.3" ry="2.5" fill="#3ce0aa"/>
<ellipse class="d" cx="141.76" cy="98.28" rx="2.3" ry="2.5" fill="#2d9fe5"/>
<ellipse class="d" cx="146.14" cy="98.28" rx="2.3" ry="2.5" fill="#223ce7"/>
<ellipse class="d" cx="150.52" cy="98.28" rx="2.3" ry="2.5" fill="#223ce7"/>
<ellipse class="d" cx="154.90" cy="98.28" rx="2.3" ry="2.5" fill="#223ce7"/>
<ellipse class="d" cx="80.44" cy="103.62" rx="2.3" ry="2.5" fill="#76ed4b"/>
<ellipse class="d" cx="89.20" cy="103.62" rx="2.3" ry="2.5" fill="#6cec58"/>
<ellipse class="d" cx="93.58" cy="103.62" rx="2.3" ry="2.5" fill="#3ce0aa"/>
<ellipse class="d" cx="97.96" cy="103.62" rx="2.3" ry="2.5" fill="#6cec58"/>
<ellipse class="d" cx="102.34" cy="103.62" rx="2.3" ry="2.5" fill="#3ce0aa"/>
<ellipse class="d" cx="119.86" cy="103.62" rx="2.3" ry="2.5" fill="#76ed4b"/>
<ellipse class="d" cx="137.38" cy="103.62" rx="2.3" ry="2.5" fill="#2d9fe5"/>
<ellipse class="d" cx="141.76" cy="103.62" rx="2.3" ry="2.5" fill="#223ce7"/>
<ellipse class="d" cx="146.14" cy="103.62" rx="2.3" ry="2.5" fill="#223ce7"/>
<ellipse class="d" cx="80.44" cy="108.96" rx="2.3" ry="2.5" fill="#76ed4b"/>
<ellipse class="d" cx="84.82" cy="108.96" rx="2.3" ry="2.5" fill="#76ed4b"/>
<ellipse class="d" cx="93.58" cy="108.96" rx="2.3" ry="2.5" fill="#76ed4b"/>
<ellipse class="d" cx="97.96" cy="108.96" rx="2.3" ry="2.5" fill="#6cec58"/>
<ellipse class="d" cx="102.34" cy="108.96" rx="2.3" ry="2.5" fill="#6cec58"/>
<ellipse class="d" cx="106.72" cy="108.96" rx="2.3" ry="2.5" fill="#6cec58"/>
<ellipse class="d" cx="111.10" cy="108.96" rx="2.3" ry="2.5" fill="#6cec58"/>
<ellipse class="d" cx="115.48" cy="108.96" rx="2.3" ry="2.5" fill="#6cec58"/>
<ellipse class="d" cx="133.00" cy="108.96" rx="2.3" ry="2.5" fill="#2dd7e1"/>
<ellipse class="d" cx="137.38" cy="108.96" rx="2.3" ry="2.5" fill="#223ce7"/>
<ellipse class="d" cx="141.76" cy="108.96" rx="2.3" ry="2.5" fill="#223ce7"/>
<ellipse class="d" cx="54.16" cy="114.30" rx="2.3" ry="2.5" fill="#3ce0aa"/>
<ellipse class="d" cx="58.54" cy="114.30" rx="2.3" ry="2.5" fill="#55e778"/>
<ellipse class="d" cx="80.44" cy="114.30" rx="2.3" ry="2.5" fill="#76ed4b"/>
<ellipse class="d" cx="84.82" cy="114.30" rx="2.3" ry="2.5" fill="#76ed4b"/>
<ellipse class="d" cx="89.20" cy="114.30" rx="2.3" ry="2.5" fill="#96e42d"/>
<ellipse class="d" cx="93.58" cy="114.30" rx="2.3" ry="2.5" fill="#c3e123"/>
<ellipse class="d" cx="102.34" cy="114.30" rx="2.3" ry="2.5" fill="#76ed4b"/>
<ellipse class="d" cx="106.72" cy="114.30" rx="2.3" ry="2.5" fill="#76ed4b"/>
<ellipse class="d" cx="111.10" cy="114.30" rx="2.3" ry="2.5" fill="#76ed4b"/>
<ellipse class="d" cx="128.62" cy="114.30" rx="2.3" ry="2.5" fill="#3ce0aa"/>
<ellipse class="d" cx="133.00" cy="114.30" rx="2.3" ry="2.5" fill="#2a70e6"/>
<ellipse class="d" cx="137.38" cy="114.30" rx="2.3" ry="2.5" fill="#223ce7"/>
<ellipse class="d" cx="80.44" cy="119.64" rx="2.3" ry="2.5" fill="#76ed4b"/>
<ellipse class="d" cx="93.58" cy="119.64" rx="2.3" ry="2.5" fill="#f48714"/>
<ellipse class="d" cx="97.96" cy="119.64" rx="2.3" ry="2.5" fill="#f48714"/>
<ellipse class="d" cx="106.72" cy="119.64" rx="2.3" ry="2.5" fill="#c3e123"/>
<ellipse class="d" cx="111.10" cy="119.64" rx="2.3" ry="2.5" fill="#96e42d"/>
<ellipse class="d" cx="119.86" cy="119.64" rx="2.3" ry="2.5" fill="#76ed4b"/>
<ellipse class="d" cx="124.24" cy="119.64" rx="2.3" ry="2.5" fill="#3ce0aa"/>
<ellipse class="d" cx="128.62" cy="119.64" rx="2.3" ry="2.5" fill="#2dd7e1"/>
<ellipse class="d" cx="133.00" cy="119.64" rx="2.3" ry="2.5" fill="#223ce7"/>
<ellipse class="d" cx="137.38" cy="119.64" rx="2.3" ry="2.5" fill="#223ce7"/>
<ellipse class="d" cx="80.44" cy="124.98" rx="2.3" ry="2.5" fill="#76ed4b"/>
<ellipse class="d" cx="84.82" cy="124.98" rx="2.3" ry="2.5" fill="#96e42d"/>
<ellipse class="d" cx="89.20" cy="124.98" rx="2.3" ry="2.5" fill="#c3e123"/>
<ellipse class="d" cx="93.58" cy="124.98" rx="2.3" ry="2.5" fill="#f48714"/>
<ellipse class="d" cx="97.96" cy="124.98" rx="2.3" ry="2.5" fill="#f48714"/>
<ellipse class="d" cx="106.72" cy="124.98" rx="2.3" ry="2.5" fill="#f48714"/>
<ellipse class="d" cx="115.48" cy="124.98" rx="2.3" ry="2.5" fill="#96e42d"/>
<ellipse class="d" cx="124.24" cy="124.98" rx="2.3" ry="2.5" fill="#2dd7e1"/>
<ellipse class="d" cx="128.62" cy="124.98" rx="2.3" ry="2.5" fill="#223ce7"/>
<ellipse class="d" cx="133.00" cy="124.98" rx="2.3" ry="2.5" fill="#223ce7"/>
<ellipse class="d" cx="54.16" cy="130.32" rx="2.3" ry="2.5" fill="#55e778"/>
<ellipse class="d" cx="58.54" cy="130.32" rx="2.3" ry="2.5" fill="#55e778"/>
<ellipse class="d" cx="62.92" cy="130.32" rx="2.3" ry="2.5" fill="#55e778"/>
<ellipse class="d" cx="67.30" cy="130.32" rx="2.3" ry="2.5" fill="#55e778"/>
<ellipse class="d" cx="76.06" cy="130.32" rx="2.3" ry="2.5" fill="#6cec58"/>
<ellipse class="d" cx="80.44" cy="130.32" rx="2.3" ry="2.5" fill="#76ed4b"/>
<ellipse class="d" cx="84.82" cy="130.32" rx="2.3" ry="2.5" fill="#96e42d"/>
<ellipse class="d" cx="93.58" cy="130.32" rx="2.3" ry="2.5" fill="#f05a14"/>
<ellipse class="d" cx="97.96" cy="130.32" rx="2.3" ry="2.5" fill="#f05a14"/>
<ellipse class="d" cx="102.34" cy="130.32" rx="2.3" ry="2.5" fill="#f52d14"/>
<ellipse class="d" cx="119.86" cy="130.32" rx="2.3" ry="2.5" fill="#3ce0aa"/>
<ellipse class="d" cx="124.24" cy="130.32" rx="2.3" ry="2.5" fill="#223ce7"/>
<ellipse class="d" cx="128.62" cy="130.32" rx="2.3" ry="2.5" fill="#223ce7"/>
<ellipse class="d" cx="133.00" cy="130.32" rx="2.3" ry="2.5" fill="#223ce7"/>
<ellipse class="d" cx="58.54" cy="135.66" rx="2.3" ry="2.5" fill="#55e778"/>
<ellipse class="d" cx="62.92" cy="135.66" rx="2.3" ry="2.5" fill="#55e778"/>
<ellipse class="d" cx="67.30" cy="135.66" rx="2.3" ry="2.5" fill="#6cec58"/>
<ellipse class="d" cx="71.68" cy="135.66" rx="2.3" ry="2.5" fill="#6cec58"/>
<ellipse class="d" cx="76.06" cy="135.66" rx="2.3" ry="2.5" fill="#76ed4b"/>
<ellipse class="d" cx="80.44" cy="135.66" rx="2.3" ry="2.5" fill="#96e42d"/>
<ellipse class="d" cx="84.82" cy="135.66" rx="2.3" ry="2.5" fill="#c3e123"/>
<ellipse class="d" cx="102.34" cy="135.66" rx="2.3" ry="2.5" fill="#f52d14"/>
<ellipse class="d" cx="111.10" cy="135.66" rx="2.3" ry="2.5" fill="#f48714"/>
<ellipse class="d" cx="115.48" cy="135.66" rx="2.3" ry="2.5" fill="#76ed4b"/>
<ellipse class="d" cx="119.86" cy="135.66" rx="2.3" ry="2.5" fill="#223ce7"/>
<ellipse class="d" cx="124.24" cy="135.66" rx="2.3" ry="2.5" fill="#223ce7"/>
<ellipse class="d" cx="128.62" cy="135.66" rx="2.3" ry="2.5" fill="#223ce7"/>
<ellipse class="d" cx="49.78" cy="141.00" rx="2.3" ry="2.5" fill="#6cec58"/>
<ellipse class="d" cx="54.16" cy="141.00" rx="2.3" ry="2.5" fill="#6cec58"/>
<ellipse class="d" cx="58.54" cy="141.00" rx="2.3" ry="2.5" fill="#55e778"/>
<ellipse class="d" cx="62.92" cy="141.00" rx="2.3" ry="2.5" fill="#6cec58"/>
<ellipse class="d" cx="67.30" cy="141.00" rx="2.3" ry="2.5" fill="#6cec58"/>
<ellipse class="d" cx="71.68" cy="141.00" rx="2.3" ry="2.5" fill="#6cec58"/>
<ellipse class="d" cx="76.06" cy="141.00" rx="2.3" ry="2.5" fill="#76ed4b"/>
<ellipse class="d" cx="80.44" cy="141.00" rx="2.3" ry="2.5" fill="#96e42d"/>
<ellipse class="d" cx="84.82" cy="141.00" rx="2.3" ry="2.5" fill="#f48714"/>
<ellipse class="d" cx="106.72" cy="141.00" rx="2.3" ry="2.5" fill="#f52d14"/>
<ellipse class="d" cx="111.10" cy="141.00" rx="2.3" ry="2.5" fill="#c3e123"/>
<ellipse class="d" cx="115.48" cy="141.00" rx="2.3" ry="2.5" fill="#2d9fe5"/>
<ellipse class="d" cx="119.86" cy="141.00" rx="2.3" ry="2.5" fill="#223ce7"/>
<ellipse class="d" cx="124.24" cy="141.00" rx="2.3" ry="2.5" fill="#223ce7"/>
<ellipse class="d" cx="128.62" cy="141.00" rx="2.3" ry="2.5" fill="#223ce7"/>
<ellipse class="d" cx="23.50" cy="146.34" rx="2.3" ry="2.5" fill="#2dd7e1"/>
<ellipse class="d" cx="27.88" cy="146.34" rx="2.3" ry="2.5" fill="#3ce0aa"/>
<ellipse class="d" cx="32.26" cy="146.34" rx="2.3" ry="2.5" fill="#55e778"/>
<ellipse class="d" cx="36.64" cy="146.34" rx="2.3" ry="2.5" fill="#55e778"/>
<ellipse class="d" cx="49.78" cy="146.34" rx="2.3" ry="2.5" fill="#6cec58"/>
<ellipse class="d" cx="54.16" cy="146.34" rx="2.3" ry="2.5" fill="#6cec58"/>
<ellipse class="d" cx="58.54" cy="146.34" rx="2.3" ry="2.5" fill="#6cec58"/>
<ellipse class="d" cx="62.92" cy="146.34" rx="2.3" ry="2.5" fill="#6cec58"/>
<ellipse class="d" cx="76.06" cy="146.34" rx="2.3" ry="2.5" fill="#96e42d"/>
<ellipse class="d" cx="102.34" cy="146.34" rx="2.3" ry="2.5" fill="#f52d14"/>
<ellipse class="d" cx="106.72" cy="146.34" rx="2.3" ry="2.5" fill="#f48714"/>
<ellipse class="d" cx="111.10" cy="146.34" rx="2.3" ry="2.5" fill="#6cec58"/>
<ellipse class="d" cx="115.48" cy="146.34" rx="2.3" ry="2.5" fill="#223ce7"/>
<ellipse class="d" cx="119.86" cy="146.34" rx="2.3" ry="2.5" fill="#223ce7"/>
<ellipse class="d" cx="124.24" cy="146.34" rx="2.3" ry="2.5" fill="#223ce7"/>
<ellipse class="d" cx="23.50" cy="151.68" rx="2.3" ry="2.5" fill="#55e778"/>
<ellipse class="d" cx="27.88" cy="151.68" rx="2.3" ry="2.5" fill="#55e778"/>
<ellipse class="d" cx="32.26" cy="151.68" rx="2.3" ry="2.5" fill="#55e778"/>
<ellipse class="d" cx="41.02" cy="151.68" rx="2.3" ry="2.5" fill="#55e778"/>
<ellipse class="d" cx="45.40" cy="151.68" rx="2.3" ry="2.5" fill="#55e778"/>
<ellipse class="d" cx="62.92" cy="151.68" rx="2.3" ry="2.5" fill="#76ed4b"/>
<ellipse class="d" cx="67.30" cy="151.68" rx="2.3" ry="2.5" fill="#76ed4b"/>
<ellipse class="d" cx="71.68" cy="151.68" rx="2.3" ry="2.5" fill="#76ed4b"/>
<ellipse class="d" cx="89.20" cy="151.68" rx="2.3" ry="2.5" fill="#f05a14"/>
<ellipse class="d" cx="93.58" cy="151.68" rx="2.3" ry="2.5" fill="#f05a14"/>
<ellipse class="d" cx="97.96" cy="151.68" rx="2.3" ry="2.5" fill="#f05a14"/>
<ellipse class="d" cx="102.34" cy="151.68" rx="2.3" ry="2.5" fill="#f48714"/>
<ellipse class="d" cx="106.72" cy="151.68" rx="2.3" ry="2.5" fill="#96e42d"/>
<ellipse class="d" cx="111.10" cy="151.68" rx="2.3" ry="2.5" fill="#3ce0aa"/>
<ellipse class="d" cx="115.48" cy="151.68" rx="2.3" ry="2.5" fill="#2d9fe5"/>
<ellipse class="d" cx="119.86" cy="151.68" rx="2.3" ry="2.5" fill="#223ce7"/>
<ellipse class="d" cx="124.24" cy="151.68" rx="2.3" ry="2.5" fill="#223ce7"/>
<ellipse class="d" cx="23.50" cy="157.02" rx="2.3" ry="2.5" fill="#6cec58"/>
<ellipse class="d" cx="27.88" cy="157.02" rx="2.3" ry="2.5" fill="#6cec58"/>
<ellipse class="d" cx="41.02" cy="157.02" rx="2.3" ry="2.5" fill="#6cec58"/>
<ellipse class="d" cx="45.40" cy="157.02" rx="2.3" ry="2.5" fill="#6cec58"/>
<ellipse class="d" cx="49.78" cy="157.02" rx="2.3" ry="2.5" fill="#6cec58"/>
<ellipse class="d" cx="54.16" cy="157.02" rx="2.3" ry="2.5" fill="#6cec58"/>
<ellipse class="d" cx="58.54" cy="157.02" rx="2.3" ry="2.5" fill="#6cec58"/>
<ellipse class="d" cx="62.92" cy="157.02" rx="2.3" ry="2.5" fill="#6cec58"/>
<ellipse class="d" cx="67.30" cy="157.02" rx="2.3" ry="2.5" fill="#6cec58"/>
<ellipse class="d" cx="71.68" cy="157.02" rx="2.3" ry="2.5" fill="#76ed4b"/>
<ellipse class="d" cx="80.44" cy="157.02" rx="2.3" ry="2.5" fill="#96e42d"/>
<ellipse class="d" cx="84.82" cy="157.02" rx="2.3" ry="2.5" fill="#f0d719"/>
<ellipse class="d" cx="89.20" cy="157.02" rx="2.3" ry="2.5" fill="#f0d719"/>
<ellipse class="d" cx="93.58" cy="157.02" rx="2.3" ry="2.5" fill="#f48714"/>
<ellipse class="d" cx="97.96" cy="157.02" rx="2.3" ry="2.5" fill="#f0d719"/>
<ellipse class="d" cx="102.34" cy="157.02" rx="2.3" ry="2.5" fill="#96e42d"/>
<ellipse class="d" cx="106.72" cy="157.02" rx="2.3" ry="2.5" fill="#76ed4b"/>
<ellipse class="d" cx="111.10" cy="157.02" rx="2.3" ry="2.5" fill="#3ce0aa"/>
<ellipse class="d" cx="115.48" cy="157.02" rx="2.3" ry="2.5" fill="#2d9fe5"/>
<ellipse class="d" cx="119.86" cy="157.02" rx="2.3" ry="2.5" fill="#2a70e6"/>
<ellipse class="d" cx="124.24" cy="157.02" rx="2.3" ry="2.5" fill="#223ce7"/>
<ellipse class="d" cx="49.78" cy="162.36" rx="2.3" ry="2.5" fill="#6cec58"/>
<ellipse class="d" cx="58.54" cy="162.36" rx="2.3" ry="2.5" fill="#6cec58"/>
<ellipse class="d" cx="62.92" cy="162.36" rx="2.3" ry="2.5" fill="#6cec58"/>
<ellipse class="d" cx="67.30" cy="162.36" rx="2.3" ry="2.5" fill="#6cec58"/>
<ellipse class="d" cx="71.68" cy="162.36" rx="2.3" ry="2.5" fill="#76ed4b"/>
<ellipse class="d" cx="76.06" cy="162.36" rx="2.3" ry="2.5" fill="#76ed4b"/>
<ellipse class="d" cx="80.44" cy="162.36" rx="2.3" ry="2.5" fill="#76ed4b"/>
<ellipse class="d" cx="84.82" cy="162.36" rx="2.3" ry="2.5" fill="#76ed4b"/>
<ellipse class="d" cx="89.20" cy="162.36" rx="2.3" ry="2.5" fill="#76ed4b"/>
<ellipse class="d" cx="93.58" cy="162.36" rx="2.3" ry="2.5" fill="#76ed4b"/>
<ellipse class="d" cx="97.96" cy="162.36" rx="2.3" ry="2.5" fill="#6cec58"/>
<ellipse class="d" cx="102.34" cy="162.36" rx="2.3" ry="2.5" fill="#6cec58"/>
<ellipse class="d" cx="106.72" cy="162.36" rx="2.3" ry="2.5" fill="#6cec58"/>
<ellipse class="d" cx="111.10" cy="162.36" rx="2.3" ry="2.5" fill="#3ce0aa"/>
<ellipse class="d" cx="115.48" cy="162.36" rx="2.3" ry="2.5" fill="#2d9fe5"/>
<ellipse class="d" cx="119.86" cy="162.36" rx="2.3" ry="2.5" fill="#2a70e6"/>
<ellipse class="d" cx="36.64" cy="167.70" rx="2.3" ry="2.5" fill="#6cec58"/>
<ellipse class="d" cx="41.02" cy="167.70" rx="2.3" ry="2.5" fill="#6cec58"/>
<ellipse class="d" cx="45.40" cy="167.70" rx="2.3" ry="2.5" fill="#6cec58"/>
<ellipse class="d" cx="49.78" cy="167.70" rx="2.3" ry="2.5" fill="#6cec58"/>
<ellipse class="d" cx="54.16" cy="167.70" rx="2.3" ry="2.5" fill="#6cec58"/>
<ellipse class="d" cx="58.54" cy="167.70" rx="2.3" ry="2.5" fill="#6cec58"/>
<ellipse class="d" cx="62.92" cy="167.70" rx="2.3" ry="2.5" fill="#6cec58"/>
<ellipse class="d" cx="67.30" cy="167.70" rx="2.3" ry="2.5" fill="#6cec58"/>
<ellipse class="d" cx="71.68" cy="167.70" rx="2.3" ry="2.5" fill="#6cec58"/>
<ellipse class="d" cx="76.06" cy="167.70" rx="2.3" ry="2.5" fill="#76ed4b"/>
<ellipse class="d" cx="80.44" cy="167.70" rx="2.3" ry="2.5" fill="#6cec58"/>
<ellipse class="d" cx="84.82" cy="167.70" rx="2.3" ry="2.5" fill="#6cec58"/>
<ellipse class="d" cx="89.20" cy="167.70" rx="2.3" ry="2.5" fill="#6cec58"/>
<ellipse class="d" cx="93.58" cy="167.70" rx="2.3" ry="2.5" fill="#76ed4b"/>
<ellipse class="d" cx="97.96" cy="167.70" rx="2.3" ry="2.5" fill="#6cec58"/>
<ellipse class="d" cx="102.34" cy="167.70" rx="2.3" ry="2.5" fill="#6cec58"/>
<ellipse class="d" cx="106.72" cy="167.70" rx="2.3" ry="2.5" fill="#3ce0aa"/>
<ellipse class="d" cx="111.10" cy="167.70" rx="2.3" ry="2.5" fill="#2dd7e1"/>
<ellipse class="d" cx="115.48" cy="167.70" rx="2.3" ry="2.5" fill="#2d9fe5"/>
<ellipse class="d" cx="119.86" cy="167.70" rx="2.3" ry="2.5" fill="#2a70e6"/>
<ellipse class="d" cx="41.02" cy="173.04" rx="2.3" ry="2.5" fill="#6cec58"/>
<ellipse class="d" cx="45.40" cy="173.04" rx="2.3" ry="2.5" fill="#6cec58"/>
<ellipse class="d" cx="54.16" cy="173.04" rx="2.3" ry="2.5" fill="#6cec58"/>
<ellipse class="d" cx="58.54" cy="173.04" rx="2.3" ry="2.5" fill="#6cec58"/>
<ellipse class="d" cx="62.92" cy="173.04" rx="2.3" ry="2.5" fill="#6cec58"/>
<ellipse class="d" cx="67.30" cy="173.04" rx="2.3" ry="2.5" fill="#6cec58"/>
<ellipse class="d" cx="71.68" cy="173.04" rx="2.3" ry="2.5" fill="#6cec58"/>
<ellipse class="d" cx="76.06" cy="173.04" rx="2.3" ry="2.5" fill="#6cec58"/>
<ellipse class="d" cx="80.44" cy="173.04" rx="2.3" ry="2.5" fill="#6cec58"/>
<ellipse class="d" cx="84.82" cy="173.04" rx="2.3" ry="2.5" fill="#6cec58"/>
<ellipse class="d" cx="89.20" cy="173.04" rx="2.3" ry="2.5" fill="#6cec58"/>
<ellipse class="d" cx="93.58" cy="173.04" rx="2.3" ry="2.5" fill="#6cec58"/>
<ellipse class="d" cx="97.96" cy="173.04" rx="2.3" ry="2.5" fill="#6cec58"/>
<ellipse class="d" cx="102.34" cy="173.04" rx="2.3" ry="2.5" fill="#3ce0aa"/>
<ellipse class="d" cx="106.72" cy="173.04" rx="2.3" ry="2.5" fill="#2d9fe5"/>
<ellipse class="d" cx="111.10" cy="173.04" rx="2.3" ry="2.5" fill="#2a70e6"/>
<ellipse class="d" cx="45.40" cy="178.38" rx="2.3" ry="2.5" fill="#6cec58"/>
<ellipse class="d" cx="49.78" cy="178.38" rx="2.3" ry="2.5" fill="#6cec58"/>
<ellipse class="d" cx="62.92" cy="178.38" rx="2.3" ry="2.5" fill="#6cec58"/>
<ellipse class="d" cx="67.30" cy="178.38" rx="2.3" ry="2.5" fill="#6cec58"/>
<ellipse class="d" cx="71.68" cy="178.38" rx="2.3" ry="2.5" fill="#6cec58"/>
<ellipse class="d" cx="76.06" cy="178.38" rx="2.3" ry="2.5" fill="#6cec58"/>
<ellipse class="d" cx="80.44" cy="178.38" rx="2.3" ry="2.5" fill="#6cec58"/>
<ellipse class="d" cx="84.82" cy="178.38" rx="2.3" ry="2.5" fill="#6cec58"/>
<ellipse class="d" cx="89.20" cy="178.38" rx="2.3" ry="2.5" fill="#6cec58"/>
<ellipse class="d" cx="93.58" cy="178.38" rx="2.3" ry="2.5" fill="#6cec58"/>
<ellipse class="d" cx="97.96" cy="178.38" rx="2.3" ry="2.5" fill="#3ce0aa"/>
<ellipse class="d" cx="102.34" cy="178.38" rx="2.3" ry="2.5" fill="#2d9fe5"/>
<ellipse class="d" cx="106.72" cy="178.38" rx="2.3" ry="2.5" fill="#2a70e6"/>
<ellipse class="d" cx="111.10" cy="178.38" rx="2.3" ry="2.5" fill="#223ce7"/>
<ellipse class="d" cx="45.40" cy="183.72" rx="2.3" ry="2.5" fill="#6cec58"/>
<ellipse class="d" cx="80.44" cy="183.72" rx="2.3" ry="2.5" fill="#3ce0aa"/>
<rect x="0.75" y="0.75" width="194.5" height="237.6" class="fr"/>
</g>
<rect x="514.00" y="280.00" width="11.30" height="236.30" fill="url(#jet)" class="cb"/>
<line x1="523.30" y1="516.30" x2="525.30" y2="516.30" class="tk"/>
<text x="529.60" y="520.60" class="tl">0</text>
<line x1="523.30" y1="489.29" x2="525.30" y2="489.29" class="tk"/>
<text x="529.60" y="493.59" class="tl">4</text>
<line x1="523.30" y1="462.29" x2="525.30" y2="462.29" class="tk"/>
<text x="529.60" y="466.59" class="tl">8</text>
<line x1="523.30" y1="435.28" x2="525.30" y2="435.28" class="tk"/>
<text x="529.60" y="439.58" class="tl">12</text>
<line x1="523.30" y1="408.28" x2="525.30" y2="408.28" class="tk"/>
<text x="529.60" y="412.58" class="tl">16</text>
<line x1="523.30" y1="381.27" x2="525.30" y2="381.27" class="tk"/>
<text x="529.60" y="385.57" class="tl">20</text>
<line x1="523.30" y1="354.27" x2="525.30" y2="354.27" class="tk"/>
<text x="529.60" y="358.57" class="tl">24</text>
<line x1="523.30" y1="327.26" x2="525.30" y2="327.26" class="tk"/>
<text x="529.60" y="331.56" class="tl">28</text>
<line x1="523.30" y1="300.25" x2="525.30" y2="300.25" class="tk"/>
<text x="529.60" y="304.55" class="tl">32</text>
<text x="285.20" y="290.60" class="pl">(d)</text>
<text x="305.50" y="473.83" class="al" text-anchor="end">35°N</text>
<text x="453.83" y="529.10" class="al" text-anchor="middle">118°W</text>
</svg>
</body></html>
